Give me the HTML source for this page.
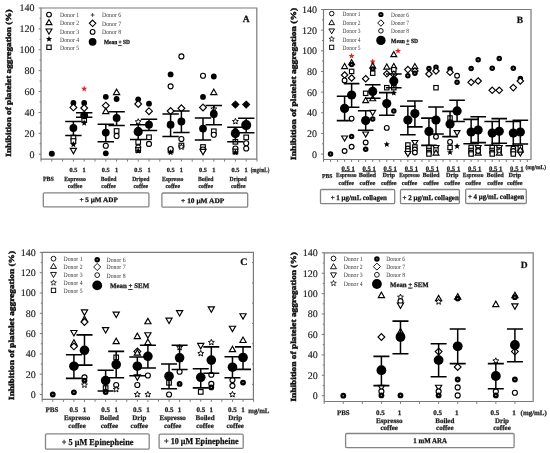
<!DOCTYPE html><html><head><meta charset="utf-8"><style>html,body{margin:0;padding:0;background:#fff;width:550px;height:453px;overflow:hidden}svg{display:block;font-family:"Liberation Serif",serif;will-change:transform;text-rendering:geometricPrecision}</style></head><body>
<svg width="550" height="453" viewBox="0 0 550 453">
<rect width="550" height="453" fill="#fff"/>
<g><path d="M41 8V159.2H256.8V8Z" fill="none" stroke="#7a7a7a" stroke-width="1.2"/><path d="M38.6 154.2H41" stroke="#7a7a7a" stroke-width="1"/><text x="34.4" y="157.6" font-size="10" text-anchor="end" font-weight="normal" fill="#222" stroke="#222" stroke-width="0.15">0</text><path d="M39.6 143.76H41" stroke="#7a7a7a" stroke-width="1"/><path d="M38.6 133.31H41" stroke="#7a7a7a" stroke-width="1"/><text x="34.4" y="136.71" font-size="10" text-anchor="end" font-weight="normal" fill="#222" stroke="#222" stroke-width="0.15">20</text><path d="M39.6 122.87H41" stroke="#7a7a7a" stroke-width="1"/><path d="M38.6 112.43H41" stroke="#7a7a7a" stroke-width="1"/><text x="34.4" y="115.83" font-size="10" text-anchor="end" font-weight="normal" fill="#222" stroke="#222" stroke-width="0.15">40</text><path d="M39.6 101.99H41" stroke="#7a7a7a" stroke-width="1"/><path d="M38.6 91.54H41" stroke="#7a7a7a" stroke-width="1"/><text x="34.4" y="94.94" font-size="10" text-anchor="end" font-weight="normal" fill="#222" stroke="#222" stroke-width="0.15">60</text><path d="M39.6 81.1H41" stroke="#7a7a7a" stroke-width="1"/><path d="M38.6 70.66H41" stroke="#7a7a7a" stroke-width="1"/><text x="34.4" y="74.06" font-size="10" text-anchor="end" font-weight="normal" fill="#222" stroke="#222" stroke-width="0.15">80</text><path d="M39.6 60.21H41" stroke="#7a7a7a" stroke-width="1"/><path d="M38.6 49.77H41" stroke="#7a7a7a" stroke-width="1"/><text x="34.4" y="53.17" font-size="10" text-anchor="end" font-weight="normal" fill="#222" stroke="#222" stroke-width="0.15">100</text><path d="M39.6 39.33H41" stroke="#7a7a7a" stroke-width="1"/><path d="M38.6 28.89H41" stroke="#7a7a7a" stroke-width="1"/><text x="34.4" y="32.29" font-size="10" text-anchor="end" font-weight="normal" fill="#222" stroke="#222" stroke-width="0.15">120</text><path d="M39.6 18.44H41" stroke="#7a7a7a" stroke-width="1"/><path d="M38.6 8H41" stroke="#7a7a7a" stroke-width="1"/><text x="34.4" y="11.4" font-size="10" text-anchor="end" font-weight="normal" fill="#222" stroke="#222" stroke-width="0.15">140</text><path d="M41 159.2V161.6" stroke="#7a7a7a" stroke-width="1"/><path d="M51.8 159.2V161.6" stroke="#7a7a7a" stroke-width="1"/><path d="M62.6 159.2V161.6" stroke="#7a7a7a" stroke-width="1"/><path d="M73.4 159.2V161.6" stroke="#7a7a7a" stroke-width="1"/><path d="M84.2 159.2V161.6" stroke="#7a7a7a" stroke-width="1"/><path d="M95 159.2V161.6" stroke="#7a7a7a" stroke-width="1"/><path d="M105.8 159.2V161.6" stroke="#7a7a7a" stroke-width="1"/><path d="M116.6 159.2V161.6" stroke="#7a7a7a" stroke-width="1"/><path d="M127.4 159.2V161.6" stroke="#7a7a7a" stroke-width="1"/><path d="M138.2 159.2V161.6" stroke="#7a7a7a" stroke-width="1"/><path d="M149 159.2V161.6" stroke="#7a7a7a" stroke-width="1"/><path d="M159.8 159.2V161.6" stroke="#7a7a7a" stroke-width="1"/><path d="M170.6 159.2V161.6" stroke="#7a7a7a" stroke-width="1"/><path d="M181.4 159.2V161.6" stroke="#7a7a7a" stroke-width="1"/><path d="M192.2 159.2V161.6" stroke="#7a7a7a" stroke-width="1"/><path d="M203 159.2V161.6" stroke="#7a7a7a" stroke-width="1"/><path d="M213.8 159.2V161.6" stroke="#7a7a7a" stroke-width="1"/><path d="M224.6 159.2V161.6" stroke="#7a7a7a" stroke-width="1"/><path d="M235.4 159.2V161.6" stroke="#7a7a7a" stroke-width="1"/><path d="M246.2 159.2V161.6" stroke="#7a7a7a" stroke-width="1"/><path d="M257 159.2V161.6" stroke="#7a7a7a" stroke-width="1"/><text transform="translate(11.2,83) rotate(-90)" x="0" y="0" font-size="7.8" font-weight="bold" text-anchor="middle" fill="#111" stroke="#111" stroke-width="0.45" textLength="147.3" lengthAdjust="spacingAndGlyphs">Inhibition of platelet aggregation (%)</text><text x="246.3" y="22.4" font-size="9.5" text-anchor="middle" font-weight="bold" fill="#111" stroke="#111" stroke-width="0.25">A</text><circle cx="51.8" cy="153.8" r="3" fill="#000"/><circle cx="73.4" cy="103" r="2.9" fill="#000"/><polygon points="73.4,104 76.8,107.4 73.4,110.8 70,107.4" fill="#fff" stroke="#000" stroke-width="1.15"/><rect x="71.1" y="135.3" width="4.6" height="4.6" fill="#fff" stroke="#000" stroke-width="1.15"/><rect x="71.1" y="138.7" width="4.6" height="4.6" fill="#fff" stroke="#000" stroke-width="1.15"/><polygon points="73.4,141.1 74.3,143.26 76.63,143.45 74.86,144.97 75.4,147.25 73.4,146.03 71.4,147.25 71.94,144.97 70.17,143.45 72.5,143.26" fill="#000"/><polygon points="73.4,153.74 70.3,148.34 76.5,148.34" fill="#fff" stroke="#000" stroke-width="1.15"/><path d="M65.2 121.6H81.6M65.2 135.6H81.6" stroke="#000" stroke-width="1.5"/><path d="M73.4 121.6V135.6" stroke="#000" stroke-width="1.5"/><circle cx="73.4" cy="128" r="3.9" fill="#000"/><polygon points="84.2,85.6 84.99,87.71 87.24,87.81 85.48,89.22 86.08,91.39 84.2,90.14 82.32,91.39 82.92,89.22 81.16,87.81 83.41,87.71" fill="#e8201a"/><circle cx="84.2" cy="103" r="2.9" fill="#000"/><polygon points="84.2,104.6 87.6,108 84.2,111.4 80.8,108" fill="#fff" stroke="#000" stroke-width="1.15"/><rect x="81.9" y="117.4" width="4.6" height="4.6" fill="#fff" stroke="#000" stroke-width="1.15"/><polygon points="84.2,119.6 85.1,121.76 87.43,121.95 85.66,123.47 86.2,125.75 84.2,124.53 82.2,125.75 82.74,123.47 80.97,121.95 83.3,121.76" fill="#000"/><path d="M76 112.8H92.4M76 117.3H92.4" stroke="#000" stroke-width="1.5"/><path d="M84.2 112.8V117.3" stroke="#000" stroke-width="1.5"/><circle cx="84.2" cy="115.3" r="3.9" fill="#000"/><circle cx="105.8" cy="96.8" r="2.9" fill="#000"/><polygon points="105.8,102.2 109.2,105.6 105.8,109 102.4,105.6" fill="#fff" stroke="#000" stroke-width="1.15"/><polygon points="105.8,108.16 102.7,113.56 108.9,113.56" fill="#fff" stroke="#000" stroke-width="1.15" stroke-linejoin="miter"/><circle cx="105.8" cy="145.7" r="2.5" fill="#fff" stroke="#000" stroke-width="1.15"/><circle cx="105.8" cy="153.3" r="2.9" fill="#000"/><path d="M97.6 124.2H114M97.6 141.8H114" stroke="#000" stroke-width="1.5"/><path d="M105.8 124.2V141.8" stroke="#000" stroke-width="1.5"/><circle cx="105.8" cy="132.6" r="3.9" fill="#000"/><polygon points="116.6,89.16 113.5,94.56 119.7,94.56" fill="#fff" stroke="#000" stroke-width="1.15" stroke-linejoin="miter"/><circle cx="116.6" cy="99" r="2.9" fill="#000"/><rect x="114.3" y="128.7" width="4.6" height="4.6" fill="#fff" stroke="#000" stroke-width="1.15"/><circle cx="116.6" cy="136" r="2.5" fill="#fff" stroke="#000" stroke-width="1.15"/><path d="M108.4 111.8H124.8M108.4 125.6H124.8" stroke="#000" stroke-width="1.5"/><path d="M116.6 111.8V125.6" stroke="#000" stroke-width="1.5"/><circle cx="116.6" cy="118" r="3.9" fill="#000"/><circle cx="138.2" cy="99.3" r="2.9" fill="#000"/><polygon points="138.2,100.6 141.6,104 138.2,107.4 134.8,104" fill="#fff" stroke="#000" stroke-width="1.15"/><polygon points="138.2,118.7 139.02,120.67 141.15,120.84 139.53,122.23 140.02,124.31 138.2,123.19 136.38,124.31 136.87,122.23 135.25,120.84 137.38,120.67" fill="#fff" stroke="#000" stroke-width="0.9199999999999999"/><circle cx="138.2" cy="130" r="2.9" fill="#000"/><rect x="135.9" y="139.7" width="4.6" height="4.6" fill="#fff" stroke="#000" stroke-width="1.15"/><circle cx="138.2" cy="147.5" r="2.5" fill="#fff" stroke="#000" stroke-width="1.15"/><rect x="135.9" y="147.7" width="4.6" height="4.6" fill="#fff" stroke="#000" stroke-width="1.15"/><polygon points="138.2,147.6 139.1,149.76 141.43,149.95 139.66,151.47 140.2,153.75 138.2,152.53 136.2,153.75 136.74,151.47 134.97,149.95 137.3,149.76" fill="#000"/><path d="M130 124.7H146.4M130 139.5H146.4" stroke="#000" stroke-width="1.5"/><path d="M138.2 124.7V139.5" stroke="#000" stroke-width="1.5"/><circle cx="138.2" cy="131.7" r="4.6" fill="#000"/><circle cx="149" cy="103.7" r="2.9" fill="#000"/><polygon points="149,107.8 152.4,111.2 149,114.6 145.6,111.2" fill="#fff" stroke="#000" stroke-width="1.15"/><rect x="146.7" y="135" width="4.6" height="4.6" fill="#fff" stroke="#000" stroke-width="1.15"/><circle cx="149" cy="143.9" r="2.5" fill="#fff" stroke="#000" stroke-width="1.15"/><path d="M140.8 119.2H157.2M140.8 130.6H157.2" stroke="#000" stroke-width="1.5"/><path d="M149 119.2V130.6" stroke="#000" stroke-width="1.5"/><circle cx="149" cy="124.7" r="3.9" fill="#000"/><circle cx="170.6" cy="74.4" r="2.9" fill="#000"/><circle cx="170.6" cy="86.3" r="2.5" fill="#fff" stroke="#000" stroke-width="1.15"/><polygon points="170.6,107.6 174,111 170.6,114.4 167.2,111" fill="#fff" stroke="#000" stroke-width="1.15"/><rect x="168.3" y="148.2" width="4.6" height="4.6" fill="#fff" stroke="#000" stroke-width="1.15"/><circle cx="170.6" cy="149" r="2.5" fill="#fff" stroke="#000" stroke-width="1.15"/><polygon points="170.6,149.1 171.5,151.26 173.83,151.45 172.06,152.97 172.6,155.25 170.6,154.03 168.6,155.25 169.14,152.97 167.37,151.45 169.7,151.26" fill="#000"/><path d="M162.4 114H178.8M162.4 136.6H178.8" stroke="#000" stroke-width="1.5"/><path d="M170.6 114V136.6" stroke="#000" stroke-width="1.5"/><circle cx="170.6" cy="124.7" r="3.9" fill="#000"/><polygon points="181.4,104.9 184.8,108.3 181.4,111.7 178,108.3" fill="#fff" stroke="#000" stroke-width="1.15"/><circle cx="181.4" cy="139" r="2.5" fill="#fff" stroke="#000" stroke-width="1.15"/><rect x="179.1" y="143.2" width="4.6" height="4.6" fill="#fff" stroke="#000" stroke-width="1.15"/><polygon points="181.4,143.9 182.22,145.87 184.35,146.04 182.73,147.43 183.22,149.51 181.4,148.4 179.58,149.51 180.07,147.43 178.45,146.04 180.58,145.87" fill="#fff" stroke="#000" stroke-width="0.9199999999999999"/><path d="M173.2 111H189.6M173.2 132.6H189.6" stroke="#000" stroke-width="1.5"/><path d="M181.4 111V132.6" stroke="#000" stroke-width="1.5"/><circle cx="181.4" cy="121.5" r="3.9" fill="#000"/><circle cx="181.4" cy="56.4" r="2.5" fill="#fff" stroke="#000" stroke-width="1.15"/><circle cx="203" cy="75.7" r="2.5" fill="#fff" stroke="#000" stroke-width="1.15"/><circle cx="203" cy="96.9" r="2.9" fill="#000"/><polygon points="203,104.1 206.4,107.5 203,110.9 199.6,107.5" fill="#fff" stroke="#000" stroke-width="1.15"/><rect x="200.7" y="144.7" width="4.6" height="4.6" fill="#fff" stroke="#000" stroke-width="1.15"/><circle cx="203" cy="149.5" r="2.5" fill="#fff" stroke="#000" stroke-width="1.15"/><polygon points="203,154.74 199.9,149.34 206.1,149.34" fill="#fff" stroke="#000" stroke-width="1.15"/><path d="M194.8 118H211.2M194.8 140H211.2" stroke="#000" stroke-width="1.5"/><path d="M203 118V140" stroke="#000" stroke-width="1.5"/><circle cx="203" cy="128.6" r="3.9" fill="#000"/><circle cx="213.8" cy="76.5" r="2.9" fill="#000"/><polygon points="213.8,89.16 210.7,94.56 216.9,94.56" fill="#fff" stroke="#000" stroke-width="1.15" stroke-linejoin="miter"/><polygon points="213.8,105.9 214.62,107.87 216.75,108.04 215.13,109.43 215.62,111.51 213.8,110.39 211.98,111.51 212.47,109.43 210.85,108.04 212.98,107.87" fill="#fff" stroke="#000" stroke-width="0.9199999999999999"/><rect x="211.5" y="129" width="4.6" height="4.6" fill="#fff" stroke="#000" stroke-width="1.15"/><circle cx="213.8" cy="134.7" r="2.5" fill="#fff" stroke="#000" stroke-width="1.15"/><path d="M205.6 105.6H222M205.6 124.7H222" stroke="#000" stroke-width="1.5"/><path d="M213.8 105.6V124.7" stroke="#000" stroke-width="1.5"/><circle cx="213.8" cy="114" r="3.9" fill="#000"/><polygon points="235.4,101.2 238.8,104.6 235.4,108 232,104.6" fill="#fff" stroke="#000" stroke-width="1.15"/><circle cx="235.4" cy="104.6" r="2.6" fill="#000"/><polygon points="235.4,118.4 236.22,120.37 238.35,120.54 236.73,121.93 237.22,124.01 235.4,122.89 233.58,124.01 234.07,121.93 232.45,120.54 234.58,120.37" fill="#fff" stroke="#000" stroke-width="0.9199999999999999"/><circle cx="235.4" cy="131" r="2.9" fill="#000"/><rect x="233.1" y="139.5" width="4.6" height="4.6" fill="#fff" stroke="#000" stroke-width="1.15"/><circle cx="235.4" cy="148.5" r="2.5" fill="#fff" stroke="#000" stroke-width="1.15"/><rect x="233.1" y="149.2" width="4.6" height="4.6" fill="#fff" stroke="#000" stroke-width="1.15"/><polygon points="235.4,149.1 236.3,151.26 238.63,151.45 236.86,152.97 237.4,155.25 235.4,154.03 233.4,155.25 233.94,152.97 232.17,151.45 234.5,151.26" fill="#000"/><path d="M227.2 127.2H243.6M227.2 141.7H243.6" stroke="#000" stroke-width="1.5"/><path d="M235.4 127.2V141.7" stroke="#000" stroke-width="1.5"/><circle cx="235.4" cy="133.6" r="4.6" fill="#000"/><polygon points="246.2,101.2 249.6,104.6 246.2,108 242.8,104.6" fill="#fff" stroke="#000" stroke-width="1.15"/><circle cx="246.2" cy="104.6" r="2.6" fill="#000"/><rect x="243.9" y="135.1" width="4.6" height="4.6" fill="#fff" stroke="#000" stroke-width="1.15"/><circle cx="246.2" cy="143.2" r="2.5" fill="#fff" stroke="#000" stroke-width="1.15"/><circle cx="246.2" cy="148.5" r="2.5" fill="#fff" stroke="#000" stroke-width="1.15"/><path d="M238 118.3H254.4M238 132.8H254.4" stroke="#000" stroke-width="1.5"/><path d="M246.2 118.3V132.8" stroke="#000" stroke-width="1.5"/><circle cx="246.2" cy="125.1" r="5" fill="#000"/><circle cx="49" cy="14.6" r="2.38" fill="#fff" stroke="#000" stroke-width="1.1"/><text x="60" y="17" font-size="6.5" text-anchor="start" font-weight="normal" fill="#3a3a3a" textLength="19" lengthAdjust="spacingAndGlyphs">Donor 1</text><polygon points="49,19.53 46.05,24.65 51.95,24.65" fill="#fff" stroke="#000" stroke-width="1.1" stroke-linejoin="miter"/><text x="60" y="25" font-size="6.5" text-anchor="start" font-weight="normal" fill="#3a3a3a" textLength="19" lengthAdjust="spacingAndGlyphs">Donor 2</text><polygon points="49,34.17 46.05,29.05 51.95,29.05" fill="#fff" stroke="#000" stroke-width="1.1"/><text x="60" y="33.5" font-size="6.5" text-anchor="start" font-weight="normal" fill="#3a3a3a" textLength="19" lengthAdjust="spacingAndGlyphs">Donor 3</text><polygon points="49,35.87 49.85,37.92 52.07,38.1 50.38,39.55 50.9,41.71 49,40.55 47.1,41.71 47.62,39.55 45.93,38.1 48.15,37.92" fill="#000"/><text x="60" y="41.5" font-size="6.5" text-anchor="start" font-weight="normal" fill="#3a3a3a" textLength="19" lengthAdjust="spacingAndGlyphs">Donor 4</text><rect x="46.81" y="45.11" width="4.37" height="4.37" fill="#fff" stroke="#000" stroke-width="1.1"/><text x="60" y="49.7" font-size="6.5" text-anchor="start" font-weight="normal" fill="#3a3a3a" textLength="19" lengthAdjust="spacingAndGlyphs">Donor 5</text><path d="M90.8 15H94.4M92.6 13.2V16.8" stroke="#333" stroke-width="0.9"/><text x="102" y="17.4" font-size="6.5" text-anchor="start" font-weight="normal" fill="#3a3a3a" textLength="19" lengthAdjust="spacingAndGlyphs">Donor 6</text><polygon points="92.6,20.07 95.83,23.3 92.6,26.53 89.37,23.3" fill="#fff" stroke="#000" stroke-width="1.1"/><text x="102" y="25.7" font-size="6.5" text-anchor="start" font-weight="normal" fill="#3a3a3a" textLength="19" lengthAdjust="spacingAndGlyphs">Donor 7</text><circle cx="92.6" cy="31.9" r="2.38" fill="#fff" stroke="#000" stroke-width="1.1"/><text x="102" y="34.3" font-size="6.5" text-anchor="start" font-weight="normal" fill="#3a3a3a" textLength="19" lengthAdjust="spacingAndGlyphs">Donor 8</text><circle cx="92.6" cy="41.8" r="3.9" fill="#000"/><text x="104" y="44.28" font-size="6.2" text-anchor="start" font-weight="bold" fill="#111" stroke="#111" stroke-width="0.25" textLength="26" lengthAdjust="spacingAndGlyphs">Mean <tspan text-decoration="underline">+</tspan> SD</text><text x="73.4" y="171.9" font-size="6.3" text-anchor="middle" font-weight="bold" fill="#222" stroke="#222" stroke-width="0.25">0.5</text><text x="84.2" y="171.9" font-size="6.3" text-anchor="middle" font-weight="bold" fill="#222" stroke="#222" stroke-width="0.25">1</text><text x="105.8" y="171.9" font-size="6.3" text-anchor="middle" font-weight="bold" fill="#222" stroke="#222" stroke-width="0.25">0.5</text><text x="116.6" y="171.9" font-size="6.3" text-anchor="middle" font-weight="bold" fill="#222" stroke="#222" stroke-width="0.25">1</text><text x="138.2" y="171.9" font-size="6.3" text-anchor="middle" font-weight="bold" fill="#222" stroke="#222" stroke-width="0.25">0.5</text><text x="149" y="171.9" font-size="6.3" text-anchor="middle" font-weight="bold" fill="#222" stroke="#222" stroke-width="0.25">1</text><text x="170.6" y="171.9" font-size="6.3" text-anchor="middle" font-weight="bold" fill="#222" stroke="#222" stroke-width="0.25">0.5</text><text x="181.4" y="171.9" font-size="6.3" text-anchor="middle" font-weight="bold" fill="#222" stroke="#222" stroke-width="0.25">1</text><text x="203" y="171.9" font-size="6.3" text-anchor="middle" font-weight="bold" fill="#222" stroke="#222" stroke-width="0.25">0.5</text><text x="213.8" y="171.9" font-size="6.3" text-anchor="middle" font-weight="bold" fill="#222" stroke="#222" stroke-width="0.25">1</text><text x="235.4" y="171.9" font-size="6.3" text-anchor="middle" font-weight="bold" fill="#222" stroke="#222" stroke-width="0.25">0.5</text><text x="246.2" y="171.9" font-size="6.3" text-anchor="middle" font-weight="bold" fill="#222" stroke="#222" stroke-width="0.25">1</text><text x="260" y="172" font-size="6.5" text-anchor="middle" font-weight="bold" fill="#222" stroke="#222" stroke-width="0.25" textLength="18.6" lengthAdjust="spacingAndGlyphs">(mg/mL)</text><text transform="translate(48.4,181.4) scale(0.93,1)" x="0" y="0" font-size="6.4" text-anchor="middle" font-weight="bold" fill="#222" stroke="#222" stroke-width="0.25">PBS</text><text transform="translate(75,180.9) scale(0.91,1)" x="0" y="0" font-size="6.3" text-anchor="middle" font-weight="bold" fill="#222" stroke="#222" stroke-width="0.25">Espresso</text><text transform="translate(75,188) scale(0.93,1)" x="0" y="0" font-size="6.3" text-anchor="middle" font-weight="bold" fill="#222" stroke="#222" stroke-width="0.25">coffee</text><text transform="translate(108.6,180.9) scale(0.91,1)" x="0" y="0" font-size="6.3" text-anchor="middle" font-weight="bold" fill="#222" stroke="#222" stroke-width="0.25">Boiled</text><text transform="translate(108.6,188) scale(0.93,1)" x="0" y="0" font-size="6.3" text-anchor="middle" font-weight="bold" fill="#222" stroke="#222" stroke-width="0.25">coffee</text><text transform="translate(140.8,180.9) scale(0.91,1)" x="0" y="0" font-size="6.3" text-anchor="middle" font-weight="bold" fill="#222" stroke="#222" stroke-width="0.25">Driped</text><text transform="translate(140.8,188) scale(0.93,1)" x="0" y="0" font-size="6.3" text-anchor="middle" font-weight="bold" fill="#222" stroke="#222" stroke-width="0.25">coffee</text><text transform="translate(172.7,180.9) scale(0.91,1)" x="0" y="0" font-size="6.3" text-anchor="middle" font-weight="bold" fill="#222" stroke="#222" stroke-width="0.25">Espresso</text><text transform="translate(172.7,188) scale(0.93,1)" x="0" y="0" font-size="6.3" text-anchor="middle" font-weight="bold" fill="#222" stroke="#222" stroke-width="0.25">coffee</text><text transform="translate(205.7,180.9) scale(0.91,1)" x="0" y="0" font-size="6.3" text-anchor="middle" font-weight="bold" fill="#222" stroke="#222" stroke-width="0.25">Boiled</text><text transform="translate(205.7,188) scale(0.93,1)" x="0" y="0" font-size="6.3" text-anchor="middle" font-weight="bold" fill="#222" stroke="#222" stroke-width="0.25">coffee</text><text transform="translate(238.2,180.9) scale(0.91,1)" x="0" y="0" font-size="6.3" text-anchor="middle" font-weight="bold" fill="#222" stroke="#222" stroke-width="0.25">Driped</text><text transform="translate(238.2,188) scale(0.93,1)" x="0" y="0" font-size="6.3" text-anchor="middle" font-weight="bold" fill="#222" stroke="#222" stroke-width="0.25">coffee</text><rect x="43.3" y="192.8" width="105.6" height="14.1" rx="1.2" fill="#fff" stroke="#858585" stroke-width="1.3"/><text x="98.6" y="202.4" font-size="7.0" text-anchor="middle" font-weight="bold" fill="#111" stroke="#111" stroke-width="0.25" textLength="38.4" lengthAdjust="spacingAndGlyphs">+ 5 μM ADP</text><rect x="161.9" y="193" width="85.8" height="14.2" rx="1.2" fill="#fff" stroke="#858585" stroke-width="1.3"/><text x="202.7" y="202.5" font-size="7.0" text-anchor="middle" font-weight="bold" fill="#111" stroke="#111" stroke-width="0.25" textLength="43.2" lengthAdjust="spacingAndGlyphs">+ 10 μM ADP</text></g>
<g><path d="M323.5 9.5V159.5H531V9.5Z" fill="none" stroke="#7a7a7a" stroke-width="1.2"/><path d="M321.1 154.1H323.5" stroke="#7a7a7a" stroke-width="1"/><text x="317.1" y="157.5" font-size="10" text-anchor="end" font-weight="normal" fill="#222" stroke="#222" stroke-width="0.15">0</text><path d="M322.1 143.77H323.5" stroke="#7a7a7a" stroke-width="1"/><path d="M321.1 133.44H323.5" stroke="#7a7a7a" stroke-width="1"/><text x="317.1" y="136.84" font-size="10" text-anchor="end" font-weight="normal" fill="#222" stroke="#222" stroke-width="0.15">20</text><path d="M322.1 123.11H323.5" stroke="#7a7a7a" stroke-width="1"/><path d="M321.1 112.79H323.5" stroke="#7a7a7a" stroke-width="1"/><text x="317.1" y="116.19" font-size="10" text-anchor="end" font-weight="normal" fill="#222" stroke="#222" stroke-width="0.15">40</text><path d="M322.1 102.46H323.5" stroke="#7a7a7a" stroke-width="1"/><path d="M321.1 92.13H323.5" stroke="#7a7a7a" stroke-width="1"/><text x="317.1" y="95.53" font-size="10" text-anchor="end" font-weight="normal" fill="#222" stroke="#222" stroke-width="0.15">60</text><path d="M322.1 81.8H323.5" stroke="#7a7a7a" stroke-width="1"/><path d="M321.1 71.47H323.5" stroke="#7a7a7a" stroke-width="1"/><text x="317.1" y="74.87" font-size="10" text-anchor="end" font-weight="normal" fill="#222" stroke="#222" stroke-width="0.15">80</text><path d="M322.1 61.14H323.5" stroke="#7a7a7a" stroke-width="1"/><path d="M321.1 50.81H323.5" stroke="#7a7a7a" stroke-width="1"/><text x="317.1" y="54.21" font-size="10" text-anchor="end" font-weight="normal" fill="#222" stroke="#222" stroke-width="0.15">100</text><path d="M322.1 40.49H323.5" stroke="#7a7a7a" stroke-width="1"/><path d="M321.1 30.16H323.5" stroke="#7a7a7a" stroke-width="1"/><text x="317.1" y="33.56" font-size="10" text-anchor="end" font-weight="normal" fill="#222" stroke="#222" stroke-width="0.15">120</text><path d="M322.1 19.83H323.5" stroke="#7a7a7a" stroke-width="1"/><path d="M321.1 9.5H323.5" stroke="#7a7a7a" stroke-width="1"/><text x="317.1" y="12.9" font-size="10" text-anchor="end" font-weight="normal" fill="#222" stroke="#222" stroke-width="0.15">140</text><path d="M323.5 159.5V161.9" stroke="#7a7a7a" stroke-width="1"/><path d="M330.53 159.5V161.9" stroke="#7a7a7a" stroke-width="1"/><path d="M337.56 159.5V161.9" stroke="#7a7a7a" stroke-width="1"/><path d="M344.59 159.5V161.9" stroke="#7a7a7a" stroke-width="1"/><path d="M351.62 159.5V161.9" stroke="#7a7a7a" stroke-width="1"/><path d="M358.65 159.5V161.9" stroke="#7a7a7a" stroke-width="1"/><path d="M365.68 159.5V161.9" stroke="#7a7a7a" stroke-width="1"/><path d="M372.71 159.5V161.9" stroke="#7a7a7a" stroke-width="1"/><path d="M379.74 159.5V161.9" stroke="#7a7a7a" stroke-width="1"/><path d="M386.77 159.5V161.9" stroke="#7a7a7a" stroke-width="1"/><path d="M393.8 159.5V161.9" stroke="#7a7a7a" stroke-width="1"/><path d="M400.83 159.5V161.9" stroke="#7a7a7a" stroke-width="1"/><path d="M407.86 159.5V161.9" stroke="#7a7a7a" stroke-width="1"/><path d="M414.89 159.5V161.9" stroke="#7a7a7a" stroke-width="1"/><path d="M421.92 159.5V161.9" stroke="#7a7a7a" stroke-width="1"/><path d="M428.95 159.5V161.9" stroke="#7a7a7a" stroke-width="1"/><path d="M435.98 159.5V161.9" stroke="#7a7a7a" stroke-width="1"/><path d="M443.01 159.5V161.9" stroke="#7a7a7a" stroke-width="1"/><path d="M450.04 159.5V161.9" stroke="#7a7a7a" stroke-width="1"/><path d="M457.07 159.5V161.9" stroke="#7a7a7a" stroke-width="1"/><path d="M464.1 159.5V161.9" stroke="#7a7a7a" stroke-width="1"/><path d="M471.13 159.5V161.9" stroke="#7a7a7a" stroke-width="1"/><path d="M478.16 159.5V161.9" stroke="#7a7a7a" stroke-width="1"/><path d="M485.19 159.5V161.9" stroke="#7a7a7a" stroke-width="1"/><path d="M492.22 159.5V161.9" stroke="#7a7a7a" stroke-width="1"/><path d="M499.25 159.5V161.9" stroke="#7a7a7a" stroke-width="1"/><path d="M506.28 159.5V161.9" stroke="#7a7a7a" stroke-width="1"/><path d="M513.31 159.5V161.9" stroke="#7a7a7a" stroke-width="1"/><path d="M520.34 159.5V161.9" stroke="#7a7a7a" stroke-width="1"/><path d="M527.37 159.5V161.9" stroke="#7a7a7a" stroke-width="1"/><text transform="translate(296.3,83.9) rotate(-90)" x="0" y="0" font-size="7.8" font-weight="bold" text-anchor="middle" fill="#111" stroke="#111" stroke-width="0.45" textLength="152" lengthAdjust="spacingAndGlyphs">Inhibition of platelet aggregation (%)</text><text x="520" y="23" font-size="9.5" text-anchor="middle" font-weight="bold" fill="#111" stroke="#111" stroke-width="0.25">B</text><circle cx="330.53" cy="154" r="2.75" fill="#000"/><circle cx="330.53" cy="154" r="0.69" fill="#aaa"/><polygon points="344.59,63.43 341.64,68.55 347.53,68.55" fill="#fff" stroke="#000" stroke-width="1.15" stroke-linejoin="miter"/><polygon points="344.59,71.77 347.82,75 344.59,78.23 341.36,75" fill="#fff" stroke="#000" stroke-width="1.15"/><circle cx="344.59" cy="80.4" r="2.38" fill="#fff" stroke="#000" stroke-width="1.15"/><polygon points="344.59,141.07 341.64,135.95 347.53,135.95" fill="#fff" stroke="#000" stroke-width="1.15"/><circle cx="344.59" cy="151" r="2.38" fill="#fff" stroke="#000" stroke-width="1.15"/><path d="M336.79 96.2H352.39M336.79 120.6H352.39" stroke="#000" stroke-width="1.6"/><path d="M344.59 96.2V120.6" stroke="#000" stroke-width="1.5"/><circle cx="344.59" cy="108.4" r="4.6" fill="#000"/><polygon points="351.62,59.53 348.68,64.65 354.56,64.65" fill="#fff" stroke="#000" stroke-width="1.15" stroke-linejoin="miter"/><circle cx="351.62" cy="64.6" r="2.75" fill="#000"/><circle cx="351.62" cy="64.6" r="0.69" fill="#aaa"/><rect x="349.44" y="69.22" width="4.37" height="4.37" fill="#fff" stroke="#000" stroke-width="1.15"/><polygon points="351.62,74.77 354.85,78 351.62,81.23 348.39,78" fill="#fff" stroke="#000" stroke-width="1.15"/><circle cx="351.62" cy="118.6" r="2.38" fill="#fff" stroke="#000" stroke-width="1.15"/><circle cx="351.62" cy="136.4" r="2.75" fill="#000"/><circle cx="351.62" cy="136.4" r="0.69" fill="#aaa"/><circle cx="351.62" cy="146.8" r="2.38" fill="#fff" stroke="#000" stroke-width="1.15"/><polygon points="351.62,52.8 352.41,54.91 354.66,55.01 352.9,56.42 353.5,58.59 351.62,57.34 349.74,58.59 350.34,56.42 348.58,55.01 350.83,54.91" fill="#e8201a"/><path d="M343.82 83.6H359.42M343.82 107.2H359.42" stroke="#000" stroke-width="1.6"/><path d="M351.62 83.6V107.2" stroke="#000" stroke-width="1.5"/><circle cx="351.62" cy="95" r="4.6" fill="#000"/><polygon points="365.68,75.47 368.91,78.7 365.68,81.93 362.45,78.7" fill="#fff" stroke="#000" stroke-width="1.15"/><rect x="363.5" y="91.11" width="4.37" height="4.37" fill="#fff" stroke="#000" stroke-width="1.15"/><polygon points="365.68,97.53 362.74,102.65 368.62,102.65" fill="#fff" stroke="#000" stroke-width="1.15" stroke-linejoin="miter"/><polygon points="365.68,137.07 362.74,131.95 368.62,131.95" fill="#fff" stroke="#000" stroke-width="1.15"/><circle cx="365.68" cy="142.5" r="2.38" fill="#fff" stroke="#000" stroke-width="1.15"/><circle cx="365.68" cy="149.3" r="2.75" fill="#000"/><circle cx="365.68" cy="149.3" r="0.69" fill="#aaa"/><path d="M357.88 110.8H373.48M357.88 130.3H373.48" stroke="#000" stroke-width="1.6"/><path d="M365.68 110.8V130.3" stroke="#000" stroke-width="1.5"/><circle cx="365.68" cy="120.6" r="4.6" fill="#000"/><polygon points="372.71,58.5 373.5,60.61 375.75,60.71 373.99,62.12 374.59,64.29 372.71,63.04 370.83,64.29 371.43,62.12 369.67,60.71 371.92,60.61" fill="#e8201a"/><polygon points="372.71,62.93 369.76,68.05 375.65,68.05" fill="#fff" stroke="#000" stroke-width="1.15" stroke-linejoin="miter"/><circle cx="372.71" cy="68.9" r="2.75" fill="#000"/><circle cx="372.71" cy="68.9" r="0.69" fill="#aaa"/><rect x="370.52" y="71.02" width="4.37" height="4.37" fill="#fff" stroke="#000" stroke-width="1.15"/><polygon points="372.71,95.63 369.76,100.75 375.65,100.75" fill="#fff" stroke="#000" stroke-width="1.15" stroke-linejoin="miter"/><polygon points="372.71,115.47 369.76,110.35 375.65,110.35" fill="#fff" stroke="#000" stroke-width="1.15"/><circle cx="372.71" cy="119" r="2.75" fill="#000"/><circle cx="372.71" cy="119" r="0.69" fill="#aaa"/><path d="M364.91 84.8H380.51M364.91 98.2H380.51" stroke="#000" stroke-width="1.6"/><path d="M372.71 84.8V98.2" stroke="#000" stroke-width="1.5"/><circle cx="372.71" cy="91.4" r="4.6" fill="#000"/><polygon points="386.77,63.93 383.82,69.05 389.71,69.05" fill="#fff" stroke="#000" stroke-width="1.15" stroke-linejoin="miter"/><polygon points="386.77,70.57 390,73.8 386.77,77.03 383.54,73.8" fill="#fff" stroke="#000" stroke-width="1.15"/><rect x="384.58" y="85.52" width="4.37" height="4.37" fill="#fff" stroke="#000" stroke-width="1.15"/><circle cx="386.77" cy="127.9" r="2.38" fill="#fff" stroke="#000" stroke-width="1.15"/><polygon points="386.77,141.17 387.62,143.22 389.84,143.4 388.15,144.85 388.67,147.01 386.77,145.85 384.87,147.01 385.39,144.85 383.7,143.4 385.92,143.22" fill="#000"/><path d="M378.97 92.6H394.57M378.97 115.2H394.57" stroke="#000" stroke-width="1.6"/><path d="M386.77 92.6V115.2" stroke="#000" stroke-width="1.5"/><circle cx="386.77" cy="103.6" r="4.6" fill="#000"/><polygon points="393.8,51.53 390.86,56.65 396.75,56.65" fill="#fff" stroke="#000" stroke-width="1.15" stroke-linejoin="miter"/><polygon points="398,47.8 398.79,49.91 401.04,50.01 399.28,51.42 399.88,53.59 398,52.34 396.12,53.59 396.72,51.42 394.96,50.01 397.21,49.91" fill="#e8201a"/><polygon points="393.8,63.43 390.86,68.55 396.75,68.55" fill="#fff" stroke="#000" stroke-width="1.15" stroke-linejoin="miter"/><rect x="391.62" y="67.52" width="4.37" height="4.37" fill="#fff" stroke="#000" stroke-width="1.15"/><polygon points="393.8,71.17 397.03,74.4 393.8,77.63 390.57,74.4" fill="#fff" stroke="#000" stroke-width="1.15"/><rect x="391.62" y="85.52" width="4.37" height="4.37" fill="#fff" stroke="#000" stroke-width="1.15"/><polygon points="393.8,89.77 394.65,91.82 396.87,92 395.18,93.45 395.7,95.61 393.8,94.45 391.9,95.61 392.42,93.45 390.73,92 392.95,91.82" fill="#000"/><circle cx="393.8" cy="111" r="2.75" fill="#000"/><circle cx="393.8" cy="111" r="0.69" fill="#aaa"/><path d="M386 74H401.6M386 87.7H401.6" stroke="#000" stroke-width="1.6"/><path d="M393.8 74V87.7" stroke="#000" stroke-width="1.5"/><circle cx="393.8" cy="81" r="4.6" fill="#000"/><polygon points="407.86,66.37 411.09,69.6 407.86,72.83 404.63,69.6" fill="#fff" stroke="#000" stroke-width="1.15"/><circle cx="407.86" cy="75.8" r="2.75" fill="#000"/><circle cx="407.86" cy="75.8" r="0.69" fill="#aaa"/><rect x="405.68" y="142.81" width="4.37" height="4.37" fill="#fff" stroke="#000" stroke-width="1.15"/><circle cx="407.86" cy="148.5" r="2.38" fill="#fff" stroke="#000" stroke-width="1.15"/><rect x="405.68" y="148.81" width="4.37" height="4.37" fill="#fff" stroke="#000" stroke-width="1.15"/><polygon points="407.86,156.57 404.92,151.45 410.81,151.45" fill="#fff" stroke="#000" stroke-width="1.15"/><path d="M400.06 106.2H415.66M400.06 134.8H415.66" stroke="#000" stroke-width="1.6"/><path d="M407.86 106.2V134.8" stroke="#000" stroke-width="1.5"/><circle cx="407.86" cy="120" r="4.6" fill="#000"/><polygon points="414.89,63.53 411.94,68.65 417.83,68.65" fill="#fff" stroke="#000" stroke-width="1.15" stroke-linejoin="miter"/><polygon points="414.89,67.77 418.12,71 414.89,74.23 411.66,71" fill="#fff" stroke="#000" stroke-width="1.15"/><circle cx="414.89" cy="73.3" r="2.75" fill="#000"/><circle cx="414.89" cy="73.3" r="0.69" fill="#aaa"/><polygon points="414.89,145.57 411.94,140.45 417.83,140.45" fill="#fff" stroke="#000" stroke-width="1.15"/><rect x="412.7" y="144.81" width="4.37" height="4.37" fill="#fff" stroke="#000" stroke-width="1.15"/><circle cx="414.89" cy="149.5" r="2.38" fill="#fff" stroke="#000" stroke-width="1.15"/><circle cx="414.89" cy="152.5" r="2.38" fill="#fff" stroke="#000" stroke-width="1.15"/><path d="M407.09 101H422.69M407.09 126.9H422.69" stroke="#000" stroke-width="1.6"/><path d="M414.89 101V126.9" stroke="#000" stroke-width="1.5"/><circle cx="414.89" cy="113.6" r="4.6" fill="#000"/><circle cx="428.95" cy="68.4" r="2.75" fill="#000"/><circle cx="428.95" cy="68.4" r="0.69" fill="#aaa"/><polygon points="428.95,70.77 432.18,74 428.95,77.23 425.72,74" fill="#fff" stroke="#000" stroke-width="1.15"/><rect x="426.76" y="145.31" width="4.37" height="4.37" fill="#fff" stroke="#000" stroke-width="1.15"/><rect x="426.76" y="148.31" width="4.37" height="4.37" fill="#fff" stroke="#000" stroke-width="1.15"/><circle cx="428.95" cy="152.5" r="2.38" fill="#fff" stroke="#000" stroke-width="1.15"/><rect x="426.76" y="151.81" width="4.37" height="4.37" fill="#fff" stroke="#000" stroke-width="1.15"/><path d="M421.15 118.1H436.75M421.15 145.4H436.75" stroke="#000" stroke-width="1.6"/><path d="M428.95 118.1V145.4" stroke="#000" stroke-width="1.5"/><circle cx="428.95" cy="131.4" r="4.6" fill="#000"/><circle cx="435.98" cy="67.3" r="2.75" fill="#000"/><circle cx="435.98" cy="67.3" r="0.69" fill="#aaa"/><polygon points="435.98,67.77 439.21,71 435.98,74.23 432.75,71" fill="#fff" stroke="#000" stroke-width="1.15"/><rect x="433.8" y="85.52" width="4.37" height="4.37" fill="#fff" stroke="#000" stroke-width="1.15"/><circle cx="435.98" cy="136.7" r="2.38" fill="#fff" stroke="#000" stroke-width="1.15"/><polygon points="435.98,150.57 433.04,145.45 438.93,145.45" fill="#fff" stroke="#000" stroke-width="1.15"/><rect x="433.8" y="147.81" width="4.37" height="4.37" fill="#fff" stroke="#000" stroke-width="1.15"/><polygon points="435.98,149.93 433.04,155.05 438.93,155.05" fill="#fff" stroke="#000" stroke-width="1.15" stroke-linejoin="miter"/><path d="M428.18 107H443.78M428.18 134H443.78" stroke="#000" stroke-width="1.6"/><path d="M435.98 107V134" stroke="#000" stroke-width="1.5"/><circle cx="435.98" cy="120" r="4.6" fill="#000"/><circle cx="450.04" cy="69.1" r="2.75" fill="#000"/><circle cx="450.04" cy="69.1" r="0.69" fill="#aaa"/><polygon points="450.04,69.07 453.27,72.3 450.04,75.53 446.81,72.3" fill="#fff" stroke="#000" stroke-width="1.15"/><rect x="447.86" y="115.81" width="4.37" height="4.37" fill="#fff" stroke="#000" stroke-width="1.15"/><circle cx="450.04" cy="141.9" r="2.38" fill="#fff" stroke="#000" stroke-width="1.15"/><rect x="447.86" y="145.31" width="4.37" height="4.37" fill="#fff" stroke="#000" stroke-width="1.15"/><polygon points="450.04,149.17 450.89,151.22 453.11,151.4 451.42,152.85 451.94,155.01 450.04,153.85 448.14,155.01 448.66,152.85 446.97,151.4 449.19,151.22" fill="#000"/><path d="M442.24 111.4H457.84M442.24 136.6H457.84" stroke="#000" stroke-width="1.6"/><path d="M450.04 111.4V136.6" stroke="#000" stroke-width="1.5"/><circle cx="450.04" cy="124" r="4.6" fill="#000"/><circle cx="457.07" cy="75.7" r="2.38" fill="#fff" stroke="#000" stroke-width="1.15"/><circle cx="457.07" cy="82.3" r="2.75" fill="#000"/><circle cx="457.07" cy="82.3" r="0.69" fill="#aaa"/><polygon points="457.07,135.67 454.12,130.55 460.01,130.55" fill="#fff" stroke="#000" stroke-width="1.15"/><polygon points="457.07,143.07 457.92,145.12 460.14,145.3 458.45,146.75 458.97,148.91 457.07,147.75 455.17,148.91 455.69,146.75 454,145.3 456.22,145.12" fill="#000"/><path d="M449.27 100.3H464.87M449.27 121.5H464.87" stroke="#000" stroke-width="1.6"/><path d="M457.07 100.3V121.5" stroke="#000" stroke-width="1.5"/><circle cx="457.07" cy="110.9" r="4.6" fill="#000"/><circle cx="471.13" cy="68.6" r="2.75" fill="#000"/><circle cx="471.13" cy="68.6" r="0.69" fill="#aaa"/><polygon points="471.13,79.07 474.36,82.3 471.13,85.53 467.9,82.3" fill="#fff" stroke="#000" stroke-width="1.15"/><rect x="468.94" y="145.31" width="4.37" height="4.37" fill="#fff" stroke="#000" stroke-width="1.15"/><rect x="468.94" y="148.31" width="4.37" height="4.37" fill="#fff" stroke="#000" stroke-width="1.15"/><circle cx="471.13" cy="152.5" r="2.38" fill="#fff" stroke="#000" stroke-width="1.15"/><rect x="468.94" y="151.81" width="4.37" height="4.37" fill="#fff" stroke="#000" stroke-width="1.15"/><path d="M463.33 119.4H478.93M463.33 143.7H478.93" stroke="#000" stroke-width="1.6"/><path d="M471.13 119.4V143.7" stroke="#000" stroke-width="1.5"/><circle cx="471.13" cy="132" r="4.6" fill="#000"/><circle cx="478.16" cy="59.8" r="2.75" fill="#000"/><circle cx="478.16" cy="59.8" r="0.69" fill="#aaa"/><polygon points="478.16,77.77 481.39,81 478.16,84.23 474.93,81" fill="#fff" stroke="#000" stroke-width="1.15"/><polygon points="478.16,150.57 475.21,145.45 481.1,145.45" fill="#fff" stroke="#000" stroke-width="1.15"/><rect x="475.97" y="147.81" width="4.37" height="4.37" fill="#fff" stroke="#000" stroke-width="1.15"/><polygon points="478.16,149.93 475.21,155.05 481.1,155.05" fill="#fff" stroke="#000" stroke-width="1.15" stroke-linejoin="miter"/><circle cx="478.16" cy="151" r="2.38" fill="#fff" stroke="#000" stroke-width="1.15"/><path d="M470.36 116.7H485.96M470.36 142.6H485.96" stroke="#000" stroke-width="1.6"/><path d="M478.16 116.7V142.6" stroke="#000" stroke-width="1.5"/><circle cx="478.16" cy="130" r="4.6" fill="#000"/><circle cx="492.22" cy="68.3" r="2.75" fill="#000"/><circle cx="492.22" cy="68.3" r="0.69" fill="#aaa"/><polygon points="492.22,87.07 495.45,90.3 492.22,93.53 488.99,90.3" fill="#fff" stroke="#000" stroke-width="1.15"/><rect x="490.04" y="145.31" width="4.37" height="4.37" fill="#fff" stroke="#000" stroke-width="1.15"/><rect x="490.04" y="148.31" width="4.37" height="4.37" fill="#fff" stroke="#000" stroke-width="1.15"/><circle cx="492.22" cy="152.5" r="2.38" fill="#fff" stroke="#000" stroke-width="1.15"/><rect x="490.04" y="151.81" width="4.37" height="4.37" fill="#fff" stroke="#000" stroke-width="1.15"/><path d="M484.42 121.5H500.02M484.42 145.3H500.02" stroke="#000" stroke-width="1.6"/><path d="M492.22 121.5V145.3" stroke="#000" stroke-width="1.5"/><circle cx="492.22" cy="133.1" r="4.6" fill="#000"/><circle cx="499.25" cy="58.5" r="2.75" fill="#000"/><circle cx="499.25" cy="58.5" r="0.69" fill="#aaa"/><polygon points="499.25,87.07 502.48,90.3 499.25,93.53 496.02,90.3" fill="#fff" stroke="#000" stroke-width="1.15"/><polygon points="499.25,150.57 496.31,145.45 502.19,145.45" fill="#fff" stroke="#000" stroke-width="1.15"/><rect x="497.06" y="147.81" width="4.37" height="4.37" fill="#fff" stroke="#000" stroke-width="1.15"/><polygon points="499.25,149.93 496.31,155.05 502.19,155.05" fill="#fff" stroke="#000" stroke-width="1.15" stroke-linejoin="miter"/><polygon points="499.25,148.06 500.03,149.93 502.05,150.09 500.51,151.41 500.98,153.38 499.25,152.33 497.52,153.38 497.99,151.41 496.45,150.09 498.47,149.93" fill="#fff" stroke="#000" stroke-width="0.9199999999999999"/><path d="M491.45 118.6H507.05M491.45 143.2H507.05" stroke="#000" stroke-width="1.6"/><path d="M499.25 118.6V143.2" stroke="#000" stroke-width="1.5"/><circle cx="499.25" cy="131.3" r="4.6" fill="#000"/><circle cx="513.31" cy="68.3" r="2.75" fill="#000"/><circle cx="513.31" cy="68.3" r="0.69" fill="#aaa"/><polygon points="513.31,84.37 516.54,87.6 513.31,90.83 510.08,87.6" fill="#fff" stroke="#000" stroke-width="1.15"/><rect x="511.12" y="149.81" width="4.37" height="4.37" fill="#fff" stroke="#000" stroke-width="1.15"/><circle cx="513.31" cy="148.5" r="2.38" fill="#fff" stroke="#000" stroke-width="1.15"/><circle cx="513.31" cy="151" r="2.38" fill="#fff" stroke="#000" stroke-width="1.15"/><rect x="511.12" y="151.81" width="4.37" height="4.37" fill="#fff" stroke="#000" stroke-width="1.15"/><path d="M505.51 121.5H521.11M505.51 145.8H521.11" stroke="#000" stroke-width="1.6"/><path d="M513.31 121.5V145.8" stroke="#000" stroke-width="1.5"/><circle cx="513.31" cy="133.1" r="4.6" fill="#000"/><circle cx="520.34" cy="78.4" r="2.75" fill="#000"/><circle cx="520.34" cy="78.4" r="0.69" fill="#aaa"/><polygon points="520.34,77.77 523.57,81 520.34,84.23 517.11,81" fill="#fff" stroke="#000" stroke-width="1.15"/><rect x="518.16" y="145.31" width="4.37" height="4.37" fill="#fff" stroke="#000" stroke-width="1.15"/><polygon points="520.34,148.06 521.12,149.93 523.14,150.09 521.6,151.41 522.07,153.38 520.34,152.33 518.61,153.38 519.08,151.41 517.54,150.09 519.56,149.93" fill="#fff" stroke="#000" stroke-width="0.9199999999999999"/><polygon points="520.34,156.07 517.39,150.95 523.29,150.95" fill="#fff" stroke="#000" stroke-width="1.15"/><polygon points="520.34,146.93 517.39,152.05 523.29,152.05" fill="#fff" stroke="#000" stroke-width="1.15" stroke-linejoin="miter"/><path d="M512.54 120.2H528.14M512.54 144H528.14" stroke="#000" stroke-width="1.6"/><path d="M520.34 120.2V144" stroke="#000" stroke-width="1.5"/><circle cx="520.34" cy="132" r="4.6" fill="#000"/><circle cx="331.7" cy="13.6" r="2.26" fill="#fff" stroke="#000" stroke-width="0.95"/><text x="342.6" y="16" font-size="6.5" text-anchor="start" font-weight="normal" fill="#3a3a3a" textLength="18" lengthAdjust="spacingAndGlyphs">Donor 1</text><polygon points="331.7,19.78 328.9,24.65 334.5,24.65" fill="#fff" stroke="#000" stroke-width="0.95" stroke-linejoin="miter"/><text x="342.6" y="25.1" font-size="6.5" text-anchor="start" font-weight="normal" fill="#3a3a3a" textLength="18" lengthAdjust="spacingAndGlyphs">Donor 2</text><polygon points="331.7,33.82 328.9,28.95 334.5,28.95" fill="#fff" stroke="#000" stroke-width="0.95"/><text x="342.6" y="33.3" font-size="6.5" text-anchor="start" font-weight="normal" fill="#3a3a3a" textLength="18" lengthAdjust="spacingAndGlyphs">Donor 3</text><polygon points="331.7,36.3 332.44,38.08 334.36,38.24 332.9,39.49 333.34,41.36 331.7,40.36 330.06,41.36 330.5,39.49 329.04,38.24 330.96,38.08" fill="#fff" stroke="#000" stroke-width="0.76"/><text x="342.6" y="41.5" font-size="6.5" text-anchor="start" font-weight="normal" fill="#3a3a3a" textLength="18" lengthAdjust="spacingAndGlyphs">Donor 4</text><rect x="329.62" y="45.22" width="4.15" height="4.15" fill="#fff" stroke="#000" stroke-width="0.95"/><text x="342.6" y="49.7" font-size="6.5" text-anchor="start" font-weight="normal" fill="#3a3a3a" textLength="18" lengthAdjust="spacingAndGlyphs">Donor 5</text><circle cx="380.9" cy="14.5" r="2.62" fill="#000"/><circle cx="380.9" cy="14.5" r="0.65" fill="#aaa"/><text x="391.1" y="16.9" font-size="6.5" text-anchor="start" font-weight="normal" fill="#3a3a3a" textLength="18" lengthAdjust="spacingAndGlyphs">Donor 6</text><polygon points="380.9,19.78 384.12,23 380.9,26.22 377.68,23" fill="#fff" stroke="#000" stroke-width="0.95"/><text x="391.1" y="25.4" font-size="6.5" text-anchor="start" font-weight="normal" fill="#3a3a3a" textLength="18" lengthAdjust="spacingAndGlyphs">Donor 7</text><circle cx="380.9" cy="30.8" r="2.26" fill="#fff" stroke="#000" stroke-width="0.95"/><text x="391.1" y="33.2" font-size="6.5" text-anchor="start" font-weight="normal" fill="#3a3a3a" textLength="18" lengthAdjust="spacingAndGlyphs">Donor 8</text><circle cx="380.9" cy="40.4" r="4.7" fill="#000"/><text x="391.1" y="42.92" font-size="6.3" text-anchor="start" font-weight="bold" fill="#111" stroke="#111" stroke-width="0.25" textLength="27" lengthAdjust="spacingAndGlyphs">Mean <tspan text-decoration="underline">+</tspan> SD</text><text x="348.09" y="170.8" font-size="6.8" text-anchor="middle" font-weight="bold" fill="#222" stroke="#222" stroke-width="0.25" textLength="13.4" lengthAdjust="spacingAndGlyphs">0.5 1</text><path d="M341.39 171.6H354.79" stroke="#333" stroke-width="0.9"/><text x="369.18" y="170.8" font-size="6.8" text-anchor="middle" font-weight="bold" fill="#222" stroke="#222" stroke-width="0.25" textLength="13.4" lengthAdjust="spacingAndGlyphs">0.5 1</text><path d="M362.48 171.6H375.88" stroke="#333" stroke-width="0.9"/><text x="390.27" y="170.8" font-size="6.8" text-anchor="middle" font-weight="bold" fill="#222" stroke="#222" stroke-width="0.25" textLength="13.4" lengthAdjust="spacingAndGlyphs">0.5 1</text><path d="M383.57 171.6H396.97" stroke="#333" stroke-width="0.9"/><text x="411.36" y="170.8" font-size="6.8" text-anchor="middle" font-weight="bold" fill="#222" stroke="#222" stroke-width="0.25" textLength="13.4" lengthAdjust="spacingAndGlyphs">0.5 1</text><path d="M404.66 171.6H418.06" stroke="#333" stroke-width="0.9"/><text x="432.45" y="170.8" font-size="6.8" text-anchor="middle" font-weight="bold" fill="#222" stroke="#222" stroke-width="0.25" textLength="13.4" lengthAdjust="spacingAndGlyphs">0.5 1</text><path d="M425.75 171.6H439.15" stroke="#333" stroke-width="0.9"/><text x="453.54" y="170.8" font-size="6.8" text-anchor="middle" font-weight="bold" fill="#222" stroke="#222" stroke-width="0.25" textLength="13.4" lengthAdjust="spacingAndGlyphs">0.5 1</text><path d="M446.84 171.6H460.24" stroke="#333" stroke-width="0.9"/><text x="474.63" y="170.8" font-size="6.8" text-anchor="middle" font-weight="bold" fill="#222" stroke="#222" stroke-width="0.25" textLength="13.4" lengthAdjust="spacingAndGlyphs">0.5 1</text><path d="M467.93 171.6H481.33" stroke="#333" stroke-width="0.9"/><text x="495.72" y="170.8" font-size="6.8" text-anchor="middle" font-weight="bold" fill="#222" stroke="#222" stroke-width="0.25" textLength="13.4" lengthAdjust="spacingAndGlyphs">0.5 1</text><path d="M489.02 171.6H502.42" stroke="#333" stroke-width="0.9"/><text x="516.81" y="170.8" font-size="6.8" text-anchor="middle" font-weight="bold" fill="#222" stroke="#222" stroke-width="0.25" textLength="13.4" lengthAdjust="spacingAndGlyphs">0.5 1</text><path d="M510.11 171.6H523.51" stroke="#333" stroke-width="0.9"/><text x="535.8" y="168.6" font-size="6" text-anchor="middle" font-weight="bold" fill="#222" stroke="#222" stroke-width="0.25" textLength="20.5" lengthAdjust="spacingAndGlyphs">(mg/mL)</text><text x="327.2" y="177.8" font-size="6" text-anchor="middle" font-weight="bold" fill="#222" stroke="#222" stroke-width="0.25" textLength="10.5" lengthAdjust="spacingAndGlyphs">PBS</text><text x="346.3" y="176.9" font-size="6.3" text-anchor="middle" font-weight="bold" fill="#222" stroke="#222" stroke-width="0.25" textLength="20.6" lengthAdjust="spacingAndGlyphs">Espresso</text><text x="346.3" y="185" font-size="6.3" text-anchor="middle" font-weight="bold" fill="#222" stroke="#222" stroke-width="0.25">coffee</text><text x="367.4" y="176.9" font-size="6.3" text-anchor="middle" font-weight="bold" fill="#222" stroke="#222" stroke-width="0.25">Boiled</text><text x="367.4" y="185" font-size="6.3" text-anchor="middle" font-weight="bold" fill="#222" stroke="#222" stroke-width="0.25">coffee</text><text x="388.8" y="176.9" font-size="6.3" text-anchor="middle" font-weight="bold" fill="#222" stroke="#222" stroke-width="0.25">Drip</text><text x="388.8" y="185" font-size="6.3" text-anchor="middle" font-weight="bold" fill="#222" stroke="#222" stroke-width="0.25">coffee</text><text x="409.5" y="176.9" font-size="6.3" text-anchor="middle" font-weight="bold" fill="#222" stroke="#222" stroke-width="0.25" textLength="20.6" lengthAdjust="spacingAndGlyphs">Espresso</text><text x="409.5" y="185" font-size="6.3" text-anchor="middle" font-weight="bold" fill="#222" stroke="#222" stroke-width="0.25">coffee</text><text x="431" y="176.9" font-size="6.3" text-anchor="middle" font-weight="bold" fill="#222" stroke="#222" stroke-width="0.25">Boiled</text><text x="431" y="185" font-size="6.3" text-anchor="middle" font-weight="bold" fill="#222" stroke="#222" stroke-width="0.25">coffee</text><text x="452.2" y="176.9" font-size="6.3" text-anchor="middle" font-weight="bold" fill="#222" stroke="#222" stroke-width="0.25">Drip</text><text x="452.2" y="185" font-size="6.3" text-anchor="middle" font-weight="bold" fill="#222" stroke="#222" stroke-width="0.25">coffee</text><text x="473.1" y="176.9" font-size="6.3" text-anchor="middle" font-weight="bold" fill="#222" stroke="#222" stroke-width="0.25" textLength="20.6" lengthAdjust="spacingAndGlyphs">Espresso</text><text x="473.1" y="185" font-size="6.3" text-anchor="middle" font-weight="bold" fill="#222" stroke="#222" stroke-width="0.25">coffee</text><text x="495.2" y="176.9" font-size="6.3" text-anchor="middle" font-weight="bold" fill="#222" stroke="#222" stroke-width="0.25">Boiled</text><text x="495.2" y="185" font-size="6.3" text-anchor="middle" font-weight="bold" fill="#222" stroke="#222" stroke-width="0.25">coffee</text><text x="514.8" y="176.9" font-size="6.3" text-anchor="middle" font-weight="bold" fill="#222" stroke="#222" stroke-width="0.25">Drip</text><text x="514.8" y="185" font-size="6.3" text-anchor="middle" font-weight="bold" fill="#222" stroke="#222" stroke-width="0.25">coffee</text><rect x="320.5" y="189.5" width="74.2" height="14.2" rx="1.2" fill="#fff" stroke="#858585" stroke-width="1.3"/><text x="358.8" y="199.5" font-size="7.2" text-anchor="middle" font-weight="bold" fill="#111" stroke="#111" stroke-width="0.25" textLength="56.3" lengthAdjust="spacingAndGlyphs">+ 1 μg/mL collagen</text><rect x="400.5" y="189.5" width="58.9" height="14.2" rx="1.2" fill="#fff" stroke="#858585" stroke-width="1.3"/><text x="430.7" y="199.5" font-size="7.2" text-anchor="middle" font-weight="bold" fill="#111" stroke="#111" stroke-width="0.25" textLength="56.2" lengthAdjust="spacingAndGlyphs">+ 2 μg/mL collagen</text><rect x="465.7" y="189.2" width="60.6" height="14.3" rx="1.2" fill="#fff" stroke="#858585" stroke-width="1.3"/><text x="496" y="199.4" font-size="7.2" text-anchor="middle" font-weight="bold" fill="#111" stroke="#111" stroke-width="0.25" textLength="56.2" lengthAdjust="spacingAndGlyphs">+ 4 μg/mL collagen</text></g>
<g><path d="M42.2 252.4V399.4H253.4V252.4Z" fill="none" stroke="#7a7a7a" stroke-width="1.2"/><path d="M39.8 394.5H42.2" stroke="#7a7a7a" stroke-width="1"/><text x="35.7" y="397.9" font-size="10" text-anchor="end" font-weight="normal" fill="#222" stroke="#222" stroke-width="0.15">0</text><path d="M40.8 384.35H42.2" stroke="#7a7a7a" stroke-width="1"/><path d="M252 384.35H253.4" stroke="#7a7a7a" stroke-width="1"/><path d="M39.8 374.2H42.2" stroke="#7a7a7a" stroke-width="1"/><text x="35.7" y="377.6" font-size="10" text-anchor="end" font-weight="normal" fill="#222" stroke="#222" stroke-width="0.15">20</text><path d="M40.8 364.05H42.2" stroke="#7a7a7a" stroke-width="1"/><path d="M252 364.05H253.4" stroke="#7a7a7a" stroke-width="1"/><path d="M39.8 353.9H42.2" stroke="#7a7a7a" stroke-width="1"/><text x="35.7" y="357.3" font-size="10" text-anchor="end" font-weight="normal" fill="#222" stroke="#222" stroke-width="0.15">40</text><path d="M40.8 343.75H42.2" stroke="#7a7a7a" stroke-width="1"/><path d="M252 343.75H253.4" stroke="#7a7a7a" stroke-width="1"/><path d="M39.8 333.6H42.2" stroke="#7a7a7a" stroke-width="1"/><text x="35.7" y="337" font-size="10" text-anchor="end" font-weight="normal" fill="#222" stroke="#222" stroke-width="0.15">60</text><path d="M40.8 323.45H42.2" stroke="#7a7a7a" stroke-width="1"/><path d="M252 323.45H253.4" stroke="#7a7a7a" stroke-width="1"/><path d="M39.8 313.3H42.2" stroke="#7a7a7a" stroke-width="1"/><text x="35.7" y="316.7" font-size="10" text-anchor="end" font-weight="normal" fill="#222" stroke="#222" stroke-width="0.15">80</text><path d="M40.8 303.15H42.2" stroke="#7a7a7a" stroke-width="1"/><path d="M252 303.15H253.4" stroke="#7a7a7a" stroke-width="1"/><path d="M39.8 293H42.2" stroke="#7a7a7a" stroke-width="1"/><text x="35.7" y="296.4" font-size="10" text-anchor="end" font-weight="normal" fill="#222" stroke="#222" stroke-width="0.15">100</text><path d="M40.8 282.85H42.2" stroke="#7a7a7a" stroke-width="1"/><path d="M252 282.85H253.4" stroke="#7a7a7a" stroke-width="1"/><path d="M39.8 272.7H42.2" stroke="#7a7a7a" stroke-width="1"/><text x="35.7" y="276.1" font-size="10" text-anchor="end" font-weight="normal" fill="#222" stroke="#222" stroke-width="0.15">120</text><path d="M40.8 262.55H42.2" stroke="#7a7a7a" stroke-width="1"/><path d="M252 262.55H253.4" stroke="#7a7a7a" stroke-width="1"/><path d="M39.8 252.4H42.2" stroke="#7a7a7a" stroke-width="1"/><text x="35.7" y="255.8" font-size="10" text-anchor="end" font-weight="normal" fill="#222" stroke="#222" stroke-width="0.15">140</text><path d="M42.2 399.4V401.8" stroke="#7a7a7a" stroke-width="1"/><path d="M52.77 399.4V401.8" stroke="#7a7a7a" stroke-width="1"/><path d="M63.34 399.4V401.8" stroke="#7a7a7a" stroke-width="1"/><path d="M73.91 399.4V401.8" stroke="#7a7a7a" stroke-width="1"/><path d="M84.48 399.4V401.8" stroke="#7a7a7a" stroke-width="1"/><path d="M95.05 399.4V401.8" stroke="#7a7a7a" stroke-width="1"/><path d="M105.62 399.4V401.8" stroke="#7a7a7a" stroke-width="1"/><path d="M116.19 399.4V401.8" stroke="#7a7a7a" stroke-width="1"/><path d="M126.76 399.4V401.8" stroke="#7a7a7a" stroke-width="1"/><path d="M137.33 399.4V401.8" stroke="#7a7a7a" stroke-width="1"/><path d="M147.9 399.4V401.8" stroke="#7a7a7a" stroke-width="1"/><path d="M158.47 399.4V401.8" stroke="#7a7a7a" stroke-width="1"/><path d="M169.04 399.4V401.8" stroke="#7a7a7a" stroke-width="1"/><path d="M179.61 399.4V401.8" stroke="#7a7a7a" stroke-width="1"/><path d="M190.18 399.4V401.8" stroke="#7a7a7a" stroke-width="1"/><path d="M200.75 399.4V401.8" stroke="#7a7a7a" stroke-width="1"/><path d="M211.32 399.4V401.8" stroke="#7a7a7a" stroke-width="1"/><path d="M221.89 399.4V401.8" stroke="#7a7a7a" stroke-width="1"/><path d="M232.46 399.4V401.8" stroke="#7a7a7a" stroke-width="1"/><path d="M243.03 399.4V401.8" stroke="#7a7a7a" stroke-width="1"/><path d="M253.6 399.4V401.8" stroke="#7a7a7a" stroke-width="1"/><text transform="translate(13.7,325.5) rotate(-90)" x="0" y="0" font-size="7.8" font-weight="bold" text-anchor="middle" fill="#111" stroke="#111" stroke-width="0.45" textLength="149" lengthAdjust="spacingAndGlyphs">Inhibition of platelet aggregation (%)</text><text x="243.9" y="265.3" font-size="10" text-anchor="middle" font-weight="bold" fill="#111" stroke="#111" stroke-width="0.25">C</text><circle cx="52.77" cy="394.5" r="2.9" fill="#000"/><circle cx="52.77" cy="394.5" r="0.72" fill="#aaa"/><polygon points="73.91,335.94 70.81,330.54 77.01,330.54" fill="#fff" stroke="#000" stroke-width="1.15"/><polygon points="73.91,339.76 70.81,345.16 77.01,345.16" fill="#fff" stroke="#000" stroke-width="1.15" stroke-linejoin="miter"/><polygon points="73.91,343 77.31,346.4 73.91,349.8 70.51,346.4" fill="#fff" stroke="#000" stroke-width="1.15"/><circle cx="73.91" cy="392.3" r="2.9" fill="#000"/><circle cx="73.91" cy="392.3" r="0.72" fill="#aaa"/><path d="M65.91 354.7H81.91M65.91 378.4H81.91" stroke="#000" stroke-width="1.6"/><path d="M73.91 354.7V378.4" stroke="#000" stroke-width="1.5"/><circle cx="73.91" cy="366.2" r="4.8" fill="#000"/><polygon points="84.48,315.34 81.38,309.94 87.58,309.94" fill="#fff" stroke="#000" stroke-width="1.15"/><polygon points="84.48,316.16 81.38,321.56 87.58,321.56" fill="#fff" stroke="#000" stroke-width="1.15" stroke-linejoin="miter"/><polygon points="84.48,318.6 87.88,322 84.48,325.4 81.08,322" fill="#fff" stroke="#000" stroke-width="1.15"/><circle cx="84.48" cy="377.3" r="2.5" fill="#fff" stroke="#000" stroke-width="1.15"/><circle cx="84.48" cy="380.6" r="2.9" fill="#000"/><circle cx="84.48" cy="380.6" r="0.72" fill="#aaa"/><polygon points="84.48,381.9 85.3,383.87 87.43,384.04 85.81,385.43 86.3,387.51 84.48,386.39 82.66,387.51 83.15,385.43 81.53,384.04 83.66,383.87" fill="#fff" stroke="#000" stroke-width="0.9199999999999999"/><path d="M76.48 334.9H92.48M76.48 365.1H92.48" stroke="#000" stroke-width="1.6"/><path d="M84.48 334.9V365.1" stroke="#000" stroke-width="1.5"/><circle cx="84.48" cy="350.3" r="4.8" fill="#000"/><polygon points="105.62,333.04 102.52,327.64 108.72,327.64" fill="#fff" stroke="#000" stroke-width="1.15"/><rect x="103.32" y="385.7" width="4.6" height="4.6" fill="#fff" stroke="#000" stroke-width="1.15"/><circle cx="105.62" cy="392" r="2.9" fill="#000"/><circle cx="105.62" cy="392" r="0.72" fill="#aaa"/><path d="M97.62 370.2H113.62M97.62 391H113.62" stroke="#000" stroke-width="1.6"/><path d="M105.62 370.2V391" stroke="#000" stroke-width="1.5"/><circle cx="105.62" cy="380.6" r="4.8" fill="#000"/><polygon points="116.19,317.54 113.09,312.14 119.29,312.14" fill="#fff" stroke="#000" stroke-width="1.15"/><polygon points="116.19,338.26 113.09,343.66 119.29,343.66" fill="#fff" stroke="#000" stroke-width="1.15" stroke-linejoin="miter"/><rect x="113.89" y="355.1" width="4.6" height="4.6" fill="#fff" stroke="#000" stroke-width="1.15"/><circle cx="116.19" cy="385" r="2.5" fill="#fff" stroke="#000" stroke-width="1.15"/><polygon points="116.19,386.3 117.01,388.27 119.14,388.44 117.52,389.83 118.01,391.91 116.19,390.79 114.37,391.91 114.86,389.83 113.24,388.44 115.37,388.27" fill="#fff" stroke="#000" stroke-width="0.9199999999999999"/><path d="M108.19 351.4H124.19M108.19 377.7H124.19" stroke="#000" stroke-width="1.6"/><path d="M116.19 351.4V377.7" stroke="#000" stroke-width="1.5"/><circle cx="116.19" cy="364.5" r="4.8" fill="#000"/><polygon points="137.33,333.16 134.23,338.56 140.43,338.56" fill="#fff" stroke="#000" stroke-width="1.15" stroke-linejoin="miter"/><polygon points="137.33,348 140.73,351.4 137.33,354.8 133.93,351.4" fill="#fff" stroke="#000" stroke-width="1.15"/><polygon points="137.33,349.76 134.23,355.16 140.43,355.16" fill="#fff" stroke="#000" stroke-width="1.15" stroke-linejoin="miter"/><polygon points="137.33,380.24 134.23,374.84 140.43,374.84" fill="#fff" stroke="#000" stroke-width="1.15"/><circle cx="137.33" cy="385" r="2.5" fill="#fff" stroke="#000" stroke-width="1.15"/><polygon points="137.33,391.4 138.15,393.37 140.28,393.54 138.66,394.93 139.15,397.01 137.33,395.89 135.51,397.01 136,394.93 134.38,393.54 136.51,393.37" fill="#fff" stroke="#000" stroke-width="0.9199999999999999"/><path d="M129.33 357H145.33M129.33 375.7H145.33" stroke="#000" stroke-width="1.6"/><path d="M137.33 357V375.7" stroke="#000" stroke-width="1.5"/><circle cx="137.33" cy="366.2" r="4.8" fill="#000"/><polygon points="147.9,318.36 144.8,323.76 151,323.76" fill="#fff" stroke="#000" stroke-width="1.15" stroke-linejoin="miter"/><polygon points="147.9,338.14 144.8,332.74 151,332.74" fill="#fff" stroke="#000" stroke-width="1.15"/><polygon points="147.9,339.16 144.8,344.56 151,344.56" fill="#fff" stroke="#000" stroke-width="1.15" stroke-linejoin="miter"/><circle cx="147.9" cy="375.5" r="2.5" fill="#fff" stroke="#000" stroke-width="1.15"/><polygon points="147.9,391.4 148.72,393.37 150.85,393.54 149.23,394.93 149.72,397.01 147.9,395.89 146.08,397.01 146.57,394.93 144.95,393.54 147.08,393.37" fill="#fff" stroke="#000" stroke-width="0.9199999999999999"/><path d="M139.9 345.3H155.9M139.9 368H155.9" stroke="#000" stroke-width="1.6"/><path d="M147.9 345.3V368" stroke="#000" stroke-width="1.5"/><circle cx="147.9" cy="356.3" r="4.8" fill="#000"/><polygon points="169.04,323.54 165.94,318.14 172.14,318.14" fill="#fff" stroke="#000" stroke-width="1.15"/><rect x="166.74" y="380.5" width="4.6" height="4.6" fill="#fff" stroke="#000" stroke-width="1.15"/><circle cx="169.04" cy="394.5" r="2.5" fill="#fff" stroke="#000" stroke-width="1.15"/><path d="M161.04 364H177.04M161.04 388.7H177.04" stroke="#000" stroke-width="1.6"/><path d="M169.04 364V388.7" stroke="#000" stroke-width="1.5"/><circle cx="169.04" cy="376.2" r="4.8" fill="#000"/><polygon points="179.61,316.04 176.51,310.64 182.71,310.64" fill="#fff" stroke="#000" stroke-width="1.15"/><polygon points="179.61,344.4 180.43,346.37 182.56,346.54 180.94,347.93 181.43,350.01 179.61,348.89 177.79,350.01 178.28,347.93 176.66,346.54 178.79,346.37" fill="#fff" stroke="#000" stroke-width="0.9199999999999999"/><circle cx="179.61" cy="371.7" r="2.5" fill="#fff" stroke="#000" stroke-width="1.15"/><circle cx="179.61" cy="383.9" r="2.9" fill="#000"/><circle cx="179.61" cy="383.9" r="0.72" fill="#aaa"/><path d="M171.61 345.3H187.61M171.61 369.5H187.61" stroke="#000" stroke-width="1.6"/><path d="M179.61 345.3V369.5" stroke="#000" stroke-width="1.5"/><circle cx="179.61" cy="357.8" r="4.8" fill="#000"/><polygon points="200.75,348.84 197.65,343.44 203.85,343.44" fill="#fff" stroke="#000" stroke-width="1.15"/><polygon points="200.75,350.4 201.57,352.37 203.7,352.54 202.08,353.93 202.57,356.01 200.75,354.89 198.93,356.01 199.42,353.93 197.8,352.54 199.93,352.37" fill="#fff" stroke="#000" stroke-width="0.9199999999999999"/><rect x="198.45" y="389.6" width="4.6" height="4.6" fill="#fff" stroke="#000" stroke-width="1.15"/><path d="M192.75 368.8H208.75M192.75 387.9H208.75" stroke="#000" stroke-width="1.6"/><path d="M200.75 368.8V387.9" stroke="#000" stroke-width="1.5"/><circle cx="200.75" cy="377.3" r="4.8" fill="#000"/><polygon points="211.32,312.24 208.22,306.84 214.42,306.84" fill="#fff" stroke="#000" stroke-width="1.15"/><polygon points="211.32,339.3 212.14,341.27 214.27,341.44 212.65,342.83 213.14,344.91 211.32,343.79 209.5,344.91 209.99,342.83 208.37,341.44 210.5,341.27" fill="#fff" stroke="#000" stroke-width="0.9199999999999999"/><circle cx="211.32" cy="374.7" r="2.5" fill="#fff" stroke="#000" stroke-width="1.15"/><circle cx="211.32" cy="383.9" r="2.5" fill="#fff" stroke="#000" stroke-width="1.15"/><circle cx="211.32" cy="387.4" r="2.9" fill="#000"/><circle cx="211.32" cy="387.4" r="0.72" fill="#aaa"/><path d="M203.32 346.9H219.32M203.32 373.3H219.32" stroke="#000" stroke-width="1.6"/><path d="M211.32 346.9V373.3" stroke="#000" stroke-width="1.5"/><circle cx="211.32" cy="360.1" r="4.8" fill="#000"/><polygon points="232.46,331.64 229.36,326.24 235.56,326.24" fill="#fff" stroke="#000" stroke-width="1.15"/><polygon points="232.46,346.26 229.36,351.66 235.56,351.66" fill="#fff" stroke="#000" stroke-width="1.15" stroke-linejoin="miter"/><circle cx="232.46" cy="380" r="2.5" fill="#fff" stroke="#000" stroke-width="1.15"/><circle cx="232.46" cy="385.8" r="2.5" fill="#fff" stroke="#000" stroke-width="1.15"/><polygon points="232.46,391.4 233.28,393.37 235.41,393.54 233.79,394.93 234.28,397.01 232.46,395.89 230.64,397.01 231.13,394.93 229.51,393.54 231.64,393.37" fill="#fff" stroke="#000" stroke-width="0.9199999999999999"/><path d="M224.46 356.7H240.46M224.46 377.8H240.46" stroke="#000" stroke-width="1.6"/><path d="M232.46 356.7V377.8" stroke="#000" stroke-width="1.5"/><circle cx="232.46" cy="367.2" r="4.8" fill="#000"/><polygon points="243.03,319.14 239.93,313.74 246.13,313.74" fill="#fff" stroke="#000" stroke-width="1.15"/><polygon points="243.03,337.06 239.93,342.46 246.13,342.46" fill="#fff" stroke="#000" stroke-width="1.15" stroke-linejoin="miter"/><circle cx="243.03" cy="382.6" r="2.9" fill="#000"/><circle cx="243.03" cy="382.6" r="0.72" fill="#aaa"/><path d="M235.03 346.9H251.03M235.03 369.4H251.03" stroke="#000" stroke-width="1.6"/><path d="M243.03 346.9V369.4" stroke="#000" stroke-width="1.5"/><circle cx="243.03" cy="357.5" r="4.8" fill="#000"/><circle cx="53.5" cy="258.7" r="2.38" fill="#fff" stroke="#000" stroke-width="0.9"/><text x="63.6" y="261.1" font-size="6.5" text-anchor="start" font-weight="normal" fill="#3a3a3a" textLength="19" lengthAdjust="spacingAndGlyphs">Donor 1</text><polygon points="53.5,263.33 50.55,268.45 56.45,268.45" fill="#fff" stroke="#000" stroke-width="0.9" stroke-linejoin="miter"/><text x="63.6" y="268.8" font-size="6.5" text-anchor="start" font-weight="normal" fill="#3a3a3a" textLength="19" lengthAdjust="spacingAndGlyphs">Donor 2</text><polygon points="53.5,277.57 50.55,272.45 56.45,272.45" fill="#fff" stroke="#000" stroke-width="0.9"/><text x="63.6" y="276.9" font-size="6.5" text-anchor="start" font-weight="normal" fill="#3a3a3a" textLength="19" lengthAdjust="spacingAndGlyphs">Donor 3</text><polygon points="53.5,279.86 54.28,281.73 56.3,281.89 54.76,283.21 55.23,285.18 53.5,284.13 51.77,285.18 52.24,283.21 50.7,281.89 52.72,281.73" fill="#fff" stroke="#000" stroke-width="0.7200000000000001"/><text x="63.6" y="285.2" font-size="6.5" text-anchor="start" font-weight="normal" fill="#3a3a3a" textLength="19" lengthAdjust="spacingAndGlyphs">Donor 4</text><rect x="51.31" y="288.21" width="4.37" height="4.37" fill="#fff" stroke="#000" stroke-width="0.9"/><text x="63.6" y="292.8" font-size="6.5" text-anchor="start" font-weight="normal" fill="#3a3a3a" textLength="19" lengthAdjust="spacingAndGlyphs">Donor 5</text><circle cx="97.2" cy="259.8" r="2.75" fill="#000"/><circle cx="97.2" cy="259.8" r="0.69" fill="#aaa"/><text x="106.6" y="262.2" font-size="6.5" text-anchor="start" font-weight="normal" fill="#3a3a3a" textLength="19" lengthAdjust="spacingAndGlyphs">Donor 6</text><polygon points="97.2,263.45 100.75,267 97.2,270.55 93.65,267" fill="#fff" stroke="#000" stroke-width="0.9"/><text x="106.6" y="269.4" font-size="6.5" text-anchor="start" font-weight="normal" fill="#3a3a3a" textLength="19" lengthAdjust="spacingAndGlyphs">Donor 7</text><circle cx="97.2" cy="275.1" r="2.38" fill="#fff" stroke="#000" stroke-width="0.9"/><text x="106.6" y="277.5" font-size="6.5" text-anchor="start" font-weight="normal" fill="#3a3a3a" textLength="19" lengthAdjust="spacingAndGlyphs">Donor 8</text><circle cx="97.2" cy="285.4" r="4.9" fill="#000"/><text x="109.9" y="288.2" font-size="7.0" text-anchor="start" font-weight="bold" fill="#111" stroke="#111" stroke-width="0.25" textLength="39.3" lengthAdjust="spacingAndGlyphs">Mean <tspan text-decoration="underline">+</tspan> SEM</text><text x="73.91" y="412" font-size="7" text-anchor="middle" font-weight="bold" fill="#222" stroke="#222" stroke-width="0.25">0.5</text><text x="84.48" y="412" font-size="7" text-anchor="middle" font-weight="bold" fill="#222" stroke="#222" stroke-width="0.25">1</text><text x="105.62" y="412" font-size="7" text-anchor="middle" font-weight="bold" fill="#222" stroke="#222" stroke-width="0.25">0.5</text><text x="116.19" y="412" font-size="7" text-anchor="middle" font-weight="bold" fill="#222" stroke="#222" stroke-width="0.25">1</text><text x="137.33" y="412" font-size="7" text-anchor="middle" font-weight="bold" fill="#222" stroke="#222" stroke-width="0.25">0.5</text><text x="147.9" y="412" font-size="7" text-anchor="middle" font-weight="bold" fill="#222" stroke="#222" stroke-width="0.25">1</text><text x="169.04" y="412" font-size="7" text-anchor="middle" font-weight="bold" fill="#222" stroke="#222" stroke-width="0.25">0.5</text><text x="179.61" y="412" font-size="7" text-anchor="middle" font-weight="bold" fill="#222" stroke="#222" stroke-width="0.25">1</text><text x="200.75" y="412" font-size="7" text-anchor="middle" font-weight="bold" fill="#222" stroke="#222" stroke-width="0.25">0.5</text><text x="211.32" y="412" font-size="7" text-anchor="middle" font-weight="bold" fill="#222" stroke="#222" stroke-width="0.25">1</text><text x="232.46" y="412" font-size="7" text-anchor="middle" font-weight="bold" fill="#222" stroke="#222" stroke-width="0.25">0.5</text><text x="243.03" y="412" font-size="7" text-anchor="middle" font-weight="bold" fill="#222" stroke="#222" stroke-width="0.25">1</text><text x="258.8" y="412.5" font-size="7" text-anchor="middle" font-weight="bold" fill="#222" stroke="#222" stroke-width="0.25" textLength="21" lengthAdjust="spacingAndGlyphs">mg/mL</text><text x="52" y="412.3" font-size="7" text-anchor="middle" font-weight="bold" fill="#222" stroke="#222" stroke-width="0.25" textLength="13" lengthAdjust="spacingAndGlyphs">PBS</text><text x="77.1" y="419.8" font-size="7" text-anchor="middle" font-weight="bold" fill="#222" stroke="#222" stroke-width="0.25">Espresso</text><text x="77.1" y="428.1" font-size="7" text-anchor="middle" font-weight="bold" fill="#222" stroke="#222" stroke-width="0.25">coffee</text><text x="109.4" y="419.8" font-size="7" text-anchor="middle" font-weight="bold" fill="#222" stroke="#222" stroke-width="0.25">Boiled</text><text x="109.4" y="428.1" font-size="7" text-anchor="middle" font-weight="bold" fill="#222" stroke="#222" stroke-width="0.25">coffee</text><text x="139.3" y="419.8" font-size="7" text-anchor="middle" font-weight="bold" fill="#222" stroke="#222" stroke-width="0.25">Drip</text><text x="139.3" y="428.1" font-size="7" text-anchor="middle" font-weight="bold" fill="#222" stroke="#222" stroke-width="0.25">coffee</text><text x="172.7" y="419.8" font-size="7" text-anchor="middle" font-weight="bold" fill="#222" stroke="#222" stroke-width="0.25">Espresso</text><text x="172.7" y="428.1" font-size="7" text-anchor="middle" font-weight="bold" fill="#222" stroke="#222" stroke-width="0.25">coffee</text><text x="205" y="419.8" font-size="7" text-anchor="middle" font-weight="bold" fill="#222" stroke="#222" stroke-width="0.25">Boiled</text><text x="205" y="428.1" font-size="7" text-anchor="middle" font-weight="bold" fill="#222" stroke="#222" stroke-width="0.25">coffee</text><text x="235.2" y="419.8" font-size="7" text-anchor="middle" font-weight="bold" fill="#222" stroke="#222" stroke-width="0.25">Drip</text><text x="235.2" y="428.1" font-size="7" text-anchor="middle" font-weight="bold" fill="#222" stroke="#222" stroke-width="0.25">coffee</text><rect x="45.5" y="433.9" width="103.7" height="15.2" rx="1.2" fill="#fff" stroke="#858585" stroke-width="1.3"/><text x="97.6" y="444.6" font-size="9" text-anchor="middle" font-weight="bold" fill="#111" stroke="#111" stroke-width="0.25" textLength="71.6" lengthAdjust="spacingAndGlyphs">+ 5 μM Epinepheine</text><rect x="159.1" y="434.1" width="84.1" height="14.3" rx="1.2" fill="#fff" stroke="#858585" stroke-width="1.3"/><text x="201.3" y="443.8" font-size="9" text-anchor="middle" font-weight="bold" fill="#111" stroke="#111" stroke-width="0.25" textLength="74.6" lengthAdjust="spacingAndGlyphs">+ 10 μM Epinepheine</text></g>
<g><path d="M324.2 252.8V401.5H533.2V252.8Z" fill="none" stroke="#7a7a7a" stroke-width="1.2"/><path d="M321.8 395.7H324.2" stroke="#7a7a7a" stroke-width="1"/><text x="317.7" y="399.1" font-size="10" text-anchor="end" font-weight="normal" fill="#222" stroke="#222" stroke-width="0.15">0</text><path d="M322.8 385.49H324.2" stroke="#7a7a7a" stroke-width="1"/><path d="M321.8 375.29H324.2" stroke="#7a7a7a" stroke-width="1"/><text x="317.7" y="378.69" font-size="10" text-anchor="end" font-weight="normal" fill="#222" stroke="#222" stroke-width="0.15">20</text><path d="M322.8 365.08H324.2" stroke="#7a7a7a" stroke-width="1"/><path d="M321.8 354.87H324.2" stroke="#7a7a7a" stroke-width="1"/><text x="317.7" y="358.27" font-size="10" text-anchor="end" font-weight="normal" fill="#222" stroke="#222" stroke-width="0.15">40</text><path d="M322.8 344.66H324.2" stroke="#7a7a7a" stroke-width="1"/><path d="M321.8 334.46H324.2" stroke="#7a7a7a" stroke-width="1"/><text x="317.7" y="337.86" font-size="10" text-anchor="end" font-weight="normal" fill="#222" stroke="#222" stroke-width="0.15">60</text><path d="M322.8 324.25H324.2" stroke="#7a7a7a" stroke-width="1"/><path d="M321.8 314.04H324.2" stroke="#7a7a7a" stroke-width="1"/><text x="317.7" y="317.44" font-size="10" text-anchor="end" font-weight="normal" fill="#222" stroke="#222" stroke-width="0.15">80</text><path d="M322.8 303.84H324.2" stroke="#7a7a7a" stroke-width="1"/><path d="M321.8 293.63H324.2" stroke="#7a7a7a" stroke-width="1"/><text x="317.7" y="297.03" font-size="10" text-anchor="end" font-weight="normal" fill="#222" stroke="#222" stroke-width="0.15">100</text><path d="M322.8 283.42H324.2" stroke="#7a7a7a" stroke-width="1"/><path d="M321.8 273.21H324.2" stroke="#7a7a7a" stroke-width="1"/><text x="317.7" y="276.61" font-size="10" text-anchor="end" font-weight="normal" fill="#222" stroke="#222" stroke-width="0.15">120</text><path d="M322.8 263.01H324.2" stroke="#7a7a7a" stroke-width="1"/><path d="M321.8 252.8H324.2" stroke="#7a7a7a" stroke-width="1"/><text x="317.7" y="256.2" font-size="10" text-anchor="end" font-weight="normal" fill="#222" stroke="#222" stroke-width="0.15">140</text><path d="M324.2 401.5V403.9" stroke="#7a7a7a" stroke-width="1"/><path d="M343.27 401.5V403.9" stroke="#7a7a7a" stroke-width="1"/><path d="M362.34 401.5V403.9" stroke="#7a7a7a" stroke-width="1"/><path d="M381.41 401.5V403.9" stroke="#7a7a7a" stroke-width="1"/><path d="M400.48 401.5V403.9" stroke="#7a7a7a" stroke-width="1"/><path d="M419.55 401.5V403.9" stroke="#7a7a7a" stroke-width="1"/><path d="M438.62 401.5V403.9" stroke="#7a7a7a" stroke-width="1"/><path d="M457.69 401.5V403.9" stroke="#7a7a7a" stroke-width="1"/><path d="M476.76 401.5V403.9" stroke="#7a7a7a" stroke-width="1"/><path d="M495.83 401.5V403.9" stroke="#7a7a7a" stroke-width="1"/><path d="M514.9 401.5V403.9" stroke="#7a7a7a" stroke-width="1"/><text transform="translate(296.4,326.8) rotate(-90)" x="0" y="0" font-size="7.8" font-weight="bold" text-anchor="middle" fill="#111" stroke="#111" stroke-width="0.45" textLength="149.5" lengthAdjust="spacingAndGlyphs">Inhibition of platelet aggregation (%)</text><text x="524.1" y="268" font-size="9.5" text-anchor="middle" font-weight="bold" fill="#111" stroke="#111" stroke-width="0.25">D</text><circle cx="343.27" cy="395.7" r="2.9" fill="#000"/><circle cx="343.27" cy="395.7" r="0.72" fill="#aaa"/><polygon points="381.41,292.16 378.31,297.56 384.51,297.56" fill="#fff" stroke="#000" stroke-width="1.15" stroke-linejoin="miter"/><polygon points="381.41,333.6 384.81,337 381.41,340.4 378.01,337" fill="#fff" stroke="#000" stroke-width="1.15"/><polygon points="381.41,390.64 378.31,385.24 384.51,385.24" fill="#fff" stroke="#000" stroke-width="1.15"/><circle cx="381.41" cy="391.4" r="2.5" fill="#fff" stroke="#000" stroke-width="1.15"/><circle cx="381.41" cy="395.4" r="2.9" fill="#000"/><circle cx="381.41" cy="395.4" r="0.72" fill="#aaa"/><path d="M373.41 356.4H389.41M373.41 385.6H389.41" stroke="#000" stroke-width="1.6"/><path d="M381.41 356.4V385.6" stroke="#000" stroke-width="1.5"/><circle cx="381.41" cy="370.2" r="4.9" fill="#000"/><polygon points="400.48,294.1 401.3,296.07 403.43,296.24 401.81,297.63 402.3,299.71 400.48,298.59 398.66,299.71 399.15,297.63 397.53,296.24 399.66,296.07" fill="#fff" stroke="#000" stroke-width="0.9199999999999999"/><circle cx="400.48" cy="301.2" r="2.5" fill="#fff" stroke="#000" stroke-width="1.15"/><polygon points="400.48,308.44 397.38,303.04 403.58,303.04" fill="#fff" stroke="#000" stroke-width="1.15"/><polygon points="400.48,328.46 397.38,333.86 403.58,333.86" fill="#fff" stroke="#000" stroke-width="1.15" stroke-linejoin="miter"/><circle cx="400.48" cy="395.4" r="2.9" fill="#000"/><circle cx="400.48" cy="395.4" r="0.72" fill="#aaa"/><path d="M392.48 321.1H408.48M392.48 353.7H408.48" stroke="#000" stroke-width="1.6"/><path d="M400.48 321.1V353.7" stroke="#000" stroke-width="1.5"/><circle cx="400.48" cy="337" r="4.9" fill="#000"/><polygon points="438.62,295.36 435.52,300.76 441.72,300.76" fill="#fff" stroke="#000" stroke-width="1.15" stroke-linejoin="miter"/><polygon points="438.62,298.7 439.44,300.67 441.57,300.84 439.95,302.23 440.44,304.31 438.62,303.19 436.8,304.31 437.29,302.23 435.67,300.84 437.8,300.67" fill="#fff" stroke="#000" stroke-width="0.9199999999999999"/><polygon points="438.62,348.2 442.02,351.6 438.62,355 435.22,351.6" fill="#fff" stroke="#000" stroke-width="1.15"/><polygon points="438.62,390.64 435.52,385.24 441.72,385.24" fill="#fff" stroke="#000" stroke-width="1.15"/><circle cx="438.62" cy="391.4" r="2.5" fill="#fff" stroke="#000" stroke-width="1.15"/><circle cx="438.62" cy="395.4" r="2.9" fill="#000"/><circle cx="438.62" cy="395.4" r="0.72" fill="#aaa"/><path d="M430.62 343.7H446.62M430.62 376.8H446.62" stroke="#000" stroke-width="1.6"/><path d="M438.62 343.7V376.8" stroke="#000" stroke-width="1.5"/><circle cx="438.62" cy="360.1" r="4.9" fill="#000"/><polygon points="457.69,293.76 454.59,299.16 460.79,299.16" fill="#fff" stroke="#000" stroke-width="1.15" stroke-linejoin="miter"/><circle cx="457.69" cy="298.6" r="2.9" fill="#000"/><circle cx="457.69" cy="298.6" r="0.72" fill="#aaa"/><polygon points="457.69,363.6 461.09,367 457.69,370.4 454.29,367" fill="#fff" stroke="#000" stroke-width="1.15"/><circle cx="457.69" cy="379.5" r="2.9" fill="#000"/><circle cx="457.69" cy="379.5" r="0.72" fill="#aaa"/><circle cx="457.69" cy="387.4" r="2.5" fill="#fff" stroke="#000" stroke-width="1.15"/><circle cx="457.69" cy="395.4" r="2.5" fill="#fff" stroke="#000" stroke-width="1.15"/><path d="M449.69 329H465.69M449.69 363.6H465.69" stroke="#000" stroke-width="1.6"/><path d="M457.69 329V363.6" stroke="#000" stroke-width="1.5"/><circle cx="457.69" cy="346.3" r="4.9" fill="#000"/><polygon points="495.83,301.16 492.73,306.56 498.93,306.56" fill="#fff" stroke="#000" stroke-width="1.15" stroke-linejoin="miter"/><polygon points="495.83,357.8 496.65,359.77 498.78,359.94 497.16,361.33 497.65,363.41 495.83,362.29 494.01,363.41 494.5,361.33 492.88,359.94 495.01,359.77" fill="#fff" stroke="#000" stroke-width="0.9199999999999999"/><circle cx="495.83" cy="391.4" r="2.5" fill="#fff" stroke="#000" stroke-width="1.15"/><circle cx="495.83" cy="395.4" r="2.9" fill="#000"/><circle cx="495.83" cy="395.4" r="0.72" fill="#aaa"/><path d="M487.83 363.6H503.83M487.83 388.8H503.83" stroke="#000" stroke-width="1.6"/><path d="M495.83 363.6V388.8" stroke="#000" stroke-width="1.5"/><circle cx="495.83" cy="376" r="4.9" fill="#000"/><polygon points="514.9,292.26 511.8,297.66 518,297.66" fill="#fff" stroke="#000" stroke-width="1.15" stroke-linejoin="miter"/><circle cx="514.9" cy="297.2" r="2.9" fill="#000"/><circle cx="514.9" cy="297.2" r="0.72" fill="#aaa"/><polygon points="514.9,309.24 511.8,303.84 518,303.84" fill="#fff" stroke="#000" stroke-width="1.15"/><polygon points="514.9,348.2 518.3,351.6 514.9,355 511.5,351.6" fill="#fff" stroke="#000" stroke-width="1.15"/><circle cx="514.9" cy="379.5" r="2.9" fill="#000"/><circle cx="514.9" cy="379.5" r="0.72" fill="#aaa"/><circle cx="514.9" cy="392.7" r="2.5" fill="#fff" stroke="#000" stroke-width="1.15"/><path d="M506.9 329H522.9M506.9 361.7H522.9" stroke="#000" stroke-width="1.6"/><path d="M514.9 329V361.7" stroke="#000" stroke-width="1.5"/><circle cx="514.9" cy="345" r="4.9" fill="#000"/><circle cx="333.5" cy="258.5" r="2.38" fill="#fff" stroke="#000" stroke-width="0.9"/><text x="343.7" y="260.9" font-size="6.5" text-anchor="start" font-weight="normal" fill="#3a3a3a" textLength="19" lengthAdjust="spacingAndGlyphs">Donor 1</text><polygon points="333.5,263.63 330.56,268.75 336.44,268.75" fill="#fff" stroke="#000" stroke-width="0.9" stroke-linejoin="miter"/><text x="343.7" y="269.1" font-size="6.5" text-anchor="start" font-weight="normal" fill="#3a3a3a" textLength="19" lengthAdjust="spacingAndGlyphs">Donor 2</text><polygon points="333.5,277.97 330.56,272.85 336.44,272.85" fill="#fff" stroke="#000" stroke-width="0.9"/><text x="343.7" y="277.3" font-size="6.5" text-anchor="start" font-weight="normal" fill="#3a3a3a" textLength="19" lengthAdjust="spacingAndGlyphs">Donor 3</text><polygon points="333.5,280.36 334.28,282.23 336.3,282.39 334.76,283.71 335.23,285.68 333.5,284.63 331.77,285.68 332.24,283.71 330.7,282.39 332.72,282.23" fill="#fff" stroke="#000" stroke-width="0.7200000000000001"/><text x="343.7" y="285.7" font-size="6.5" text-anchor="start" font-weight="normal" fill="#3a3a3a" textLength="19" lengthAdjust="spacingAndGlyphs">Donor 4</text><circle cx="376.9" cy="258.9" r="2.75" fill="#000"/><circle cx="376.9" cy="258.9" r="0.69" fill="#aaa"/><text x="386.2" y="261.3" font-size="6.5" text-anchor="start" font-weight="normal" fill="#3a3a3a" textLength="19" lengthAdjust="spacingAndGlyphs">Donor 6</text><polygon points="376.9,263.05 380.45,266.6 376.9,270.15 373.35,266.6" fill="#fff" stroke="#000" stroke-width="0.9"/><text x="386.2" y="269" font-size="6.5" text-anchor="start" font-weight="normal" fill="#3a3a3a" textLength="19" lengthAdjust="spacingAndGlyphs">Donor 7</text><circle cx="376.9" cy="274.8" r="2.38" fill="#fff" stroke="#000" stroke-width="0.9"/><text x="386.2" y="277.2" font-size="6.5" text-anchor="start" font-weight="normal" fill="#3a3a3a" textLength="19" lengthAdjust="spacingAndGlyphs">Donor 8</text><circle cx="376.9" cy="284" r="4.9" fill="#000"/><text x="390" y="286.8" font-size="7.0" text-anchor="start" font-weight="bold" fill="#111" stroke="#111" stroke-width="0.25" textLength="38.7" lengthAdjust="spacingAndGlyphs">Mean <tspan text-decoration="underline">+</tspan> SEM</text><text x="380.41" y="414.6" font-size="7" text-anchor="middle" font-weight="bold" fill="#222" stroke="#222" stroke-width="0.25">0.5</text><text x="399.48" y="414.6" font-size="7" text-anchor="middle" font-weight="bold" fill="#222" stroke="#222" stroke-width="0.25">1</text><text x="437.62" y="414.6" font-size="7" text-anchor="middle" font-weight="bold" fill="#222" stroke="#222" stroke-width="0.25">0.5</text><text x="456.69" y="414.6" font-size="7" text-anchor="middle" font-weight="bold" fill="#222" stroke="#222" stroke-width="0.25">1</text><text x="494.83" y="414.6" font-size="7" text-anchor="middle" font-weight="bold" fill="#222" stroke="#222" stroke-width="0.25">0.5</text><text x="513.9" y="414.6" font-size="7" text-anchor="middle" font-weight="bold" fill="#222" stroke="#222" stroke-width="0.25">1</text><text x="533.7" y="415.2" font-size="7" text-anchor="middle" font-weight="bold" fill="#222" stroke="#222" stroke-width="0.25" textLength="26.2" lengthAdjust="spacingAndGlyphs">(mg/mL)</text><text x="343.3" y="414.6" font-size="7" text-anchor="middle" font-weight="bold" fill="#222" stroke="#222" stroke-width="0.25" textLength="12.7" lengthAdjust="spacingAndGlyphs">PBS</text><text x="389.2" y="422.9" font-size="7" text-anchor="middle" font-weight="bold" fill="#222" stroke="#222" stroke-width="0.25" textLength="26.6" lengthAdjust="spacingAndGlyphs">Espresso</text><text x="389.2" y="430.1" font-size="7" text-anchor="middle" font-weight="bold" fill="#222" stroke="#222" stroke-width="0.25">coffee</text><text x="444.8" y="422.9" font-size="7" text-anchor="middle" font-weight="bold" fill="#222" stroke="#222" stroke-width="0.25">Boiled</text><text x="444.8" y="430.1" font-size="7" text-anchor="middle" font-weight="bold" fill="#222" stroke="#222" stroke-width="0.25">coffee</text><text x="502" y="422.9" font-size="7" text-anchor="middle" font-weight="bold" fill="#222" stroke="#222" stroke-width="0.25">Drip</text><text x="502" y="430.1" font-size="7" text-anchor="middle" font-weight="bold" fill="#222" stroke="#222" stroke-width="0.25">coffee</text><rect x="345.6" y="433.5" width="168.5" height="14.2" rx="1.2" fill="#fff" stroke="#858585" stroke-width="1.3"/><text x="430.2" y="443.3" font-size="7.3" text-anchor="middle" font-weight="bold" fill="#111" stroke="#111" stroke-width="0.25" textLength="33.7" lengthAdjust="spacingAndGlyphs">1 mM ARA</text></g>
</svg></body></html>
